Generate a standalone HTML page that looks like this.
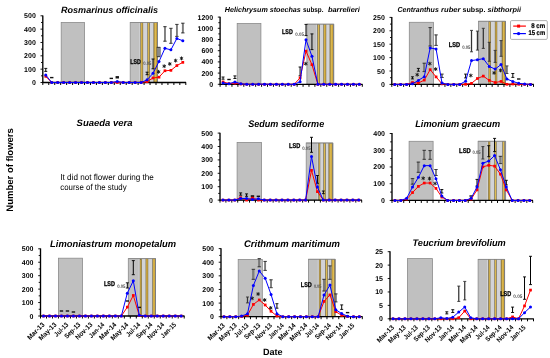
<!DOCTYPE html>
<html><head><meta charset="utf-8"><style>
html,body{margin:0;padding:0;background:#fff;}
body{width:550px;height:358px;overflow:hidden;}
svg{display:block;font-family:"Liberation Sans", sans-serif;text-rendering:geometricPrecision;will-change:transform;}
</style></head><body>
<svg width="550" height="358" viewBox="0 0 550 358">
<defs><linearGradient id="gold" x1="0" y1="0" x2="1" y2="0">
<stop offset="0" stop-color="#746a4c"/><stop offset="0.25" stop-color="#cca640"/><stop offset="0.55" stop-color="#e0be54"/><stop offset="0.8" stop-color="#c8a038"/><stop offset="1" stop-color="#7e6a34"/></linearGradient></defs>
<rect width="550" height="358" fill="#fff"/>
<rect x="61.2" y="22.5" width="23.3" height="60" fill="#c0c0c0" stroke="#8a8a8a" stroke-width="0.8"/>
<rect x="130.2" y="22.5" width="27.3" height="60" fill="#c0c0c0" stroke="#8a8a8a" stroke-width="0.8"/>
<rect x="139.3" y="22.9" width="18.2" height="59.6" fill="#d2d3d8"/>
<rect x="140.7" y="22.7" width="2.2" height="59.8" fill="url(#gold)" stroke="#75683f" stroke-width="0.45"/>
<rect x="147.7" y="22.7" width="1.9" height="59.8" fill="url(#gold)" stroke="#75683f" stroke-width="0.45"/>
<rect x="153.8" y="22.7" width="3.4" height="59.8" fill="url(#gold)" stroke="#75683f" stroke-width="0.45"/>
<line x1="157.5" y1="22.5" x2="157.5" y2="82.5" stroke="#767a84" stroke-width="0.8"/>
<line x1="130.2" y1="22.5" x2="157.5" y2="22.5" stroke="#8a8a8a" stroke-width="0.8"/>
<line x1="42.8" y1="15.4" x2="42.8" y2="83" stroke="#000" stroke-width="1.35"/>
<line x1="42.3" y1="82.5" x2="186.1" y2="82.5" stroke="#000" stroke-width="1.3"/>
<line x1="42.8" y1="82.5" x2="42.8" y2="85" stroke="#000" stroke-width="1.0"/>
<line x1="48.76" y1="82.5" x2="48.76" y2="85" stroke="#000" stroke-width="1.0"/>
<line x1="54.72" y1="82.5" x2="54.72" y2="85" stroke="#000" stroke-width="1.0"/>
<line x1="60.67" y1="82.5" x2="60.67" y2="85" stroke="#000" stroke-width="1.0"/>
<line x1="66.63" y1="82.5" x2="66.63" y2="85" stroke="#000" stroke-width="1.0"/>
<line x1="72.59" y1="82.5" x2="72.59" y2="85" stroke="#000" stroke-width="1.0"/>
<line x1="78.55" y1="82.5" x2="78.55" y2="85" stroke="#000" stroke-width="1.0"/>
<line x1="84.51" y1="82.5" x2="84.51" y2="85" stroke="#000" stroke-width="1.0"/>
<line x1="90.47" y1="82.5" x2="90.47" y2="85" stroke="#000" stroke-width="1.0"/>
<line x1="96.42" y1="82.5" x2="96.42" y2="85" stroke="#000" stroke-width="1.0"/>
<line x1="102.38" y1="82.5" x2="102.38" y2="85" stroke="#000" stroke-width="1.0"/>
<line x1="108.34" y1="82.5" x2="108.34" y2="85" stroke="#000" stroke-width="1.0"/>
<line x1="114.3" y1="82.5" x2="114.3" y2="85" stroke="#000" stroke-width="1.0"/>
<line x1="120.26" y1="82.5" x2="120.26" y2="85" stroke="#000" stroke-width="1.0"/>
<line x1="126.22" y1="82.5" x2="126.22" y2="85" stroke="#000" stroke-width="1.0"/>
<line x1="132.18" y1="82.5" x2="132.18" y2="85" stroke="#000" stroke-width="1.0"/>
<line x1="138.13" y1="82.5" x2="138.13" y2="85" stroke="#000" stroke-width="1.0"/>
<line x1="144.09" y1="82.5" x2="144.09" y2="85" stroke="#000" stroke-width="1.0"/>
<line x1="150.05" y1="82.5" x2="150.05" y2="85" stroke="#000" stroke-width="1.0"/>
<line x1="156.01" y1="82.5" x2="156.01" y2="85" stroke="#000" stroke-width="1.0"/>
<line x1="161.97" y1="82.5" x2="161.97" y2="85" stroke="#000" stroke-width="1.0"/>
<line x1="167.93" y1="82.5" x2="167.93" y2="85" stroke="#000" stroke-width="1.0"/>
<line x1="173.88" y1="82.5" x2="173.88" y2="85" stroke="#000" stroke-width="1.0"/>
<line x1="179.84" y1="82.5" x2="179.84" y2="85" stroke="#000" stroke-width="1.0"/>
<line x1="185.8" y1="82.5" x2="185.8" y2="85" stroke="#000" stroke-width="1.0"/>
<line x1="40.5" y1="82.5" x2="42.8" y2="82.5" stroke="#000" stroke-width="0.9"/>
<text x="35.8" y="85" font-size="7" font-weight="bold" font-style="normal" fill="#000" text-anchor="end" >0</text>
<line x1="40.5" y1="69.16" x2="42.8" y2="69.16" stroke="#000" stroke-width="0.9"/>
<text x="35.8" y="71.66" font-size="7" font-weight="bold" font-style="normal" fill="#000" text-anchor="end" >100</text>
<line x1="40.5" y1="55.82" x2="42.8" y2="55.82" stroke="#000" stroke-width="0.9"/>
<text x="35.8" y="58.32" font-size="7" font-weight="bold" font-style="normal" fill="#000" text-anchor="end" >200</text>
<line x1="40.5" y1="42.48" x2="42.8" y2="42.48" stroke="#000" stroke-width="0.9"/>
<text x="35.8" y="44.98" font-size="7" font-weight="bold" font-style="normal" fill="#000" text-anchor="end" >300</text>
<line x1="40.5" y1="29.14" x2="42.8" y2="29.14" stroke="#000" stroke-width="0.9"/>
<text x="35.8" y="31.64" font-size="7" font-weight="bold" font-style="normal" fill="#000" text-anchor="end" >400</text>
<line x1="40.5" y1="15.8" x2="42.8" y2="15.8" stroke="#000" stroke-width="0.9"/>
<text x="35.8" y="18.3" font-size="7" font-weight="bold" font-style="normal" fill="#000" text-anchor="end" >500</text>
<line x1="41" y1="75.83" x2="42.8" y2="75.83" stroke="#000" stroke-width="0.9"/>
<line x1="41" y1="62.49" x2="42.8" y2="62.49" stroke="#000" stroke-width="0.9"/>
<line x1="41" y1="49.15" x2="42.8" y2="49.15" stroke="#000" stroke-width="0.9"/>
<line x1="41" y1="35.81" x2="42.8" y2="35.81" stroke="#000" stroke-width="0.9"/>
<line x1="41" y1="22.47" x2="42.8" y2="22.47" stroke="#000" stroke-width="0.9"/>
<line x1="45.78" y1="68.4" x2="45.78" y2="71.4" stroke="#000" stroke-width="1.0"/>
<line x1="44.28" y1="68.4" x2="47.28" y2="68.4" stroke="#000" stroke-width="0.9"/>
<line x1="44.28" y1="71.4" x2="47.28" y2="71.4" stroke="#000" stroke-width="0.9"/>
<line x1="50.04" y1="77.6" x2="53.44" y2="77.6" stroke="#111" stroke-width="1.4"/>
<line x1="109.62" y1="78.4" x2="113.02" y2="78.4" stroke="#111" stroke-width="1.4"/>
<rect x="115.58" y="76.1" width="3.4" height="2.4" fill="#151515"/>
<line x1="147.07" y1="72.2" x2="147.07" y2="74.7" stroke="#000" stroke-width="1.0"/>
<line x1="145.57" y1="72.2" x2="148.57" y2="72.2" stroke="#000" stroke-width="0.9"/>
<line x1="145.57" y1="74.7" x2="148.57" y2="74.7" stroke="#000" stroke-width="0.9"/>
<line x1="153.03" y1="59" x2="153.03" y2="68.8" stroke="#000" stroke-width="1.0"/>
<line x1="151.53" y1="59" x2="154.53" y2="59" stroke="#000" stroke-width="0.9"/>
<line x1="151.53" y1="68.8" x2="154.53" y2="68.8" stroke="#000" stroke-width="0.9"/>
<rect x="156.89" y="47.3" width="3.4" height="9.4" fill="#8a8a8a" stroke="#4a4a4a" stroke-width="0.45"/>
<line x1="156.84" y1="47.3" x2="160.34" y2="47.3" stroke="#333" stroke-width="0.9"/>
<line x1="156.84" y1="56.7" x2="160.34" y2="56.7" stroke="#333" stroke-width="0.9"/>
<rect x="164.3" y="26.7" width="1.3" height="14.5" fill="#8a8a8a" stroke="#4a4a4a" stroke-width="0.45"/>
<line x1="163.2" y1="26.7" x2="166.7" y2="26.7" stroke="#333" stroke-width="0.9"/>
<line x1="163.2" y1="41.2" x2="166.7" y2="41.2" stroke="#333" stroke-width="0.9"/>
<rect x="170.25" y="28.3" width="1.3" height="15" fill="#8a8a8a" stroke="#4a4a4a" stroke-width="0.45"/>
<line x1="169.15" y1="28.3" x2="172.65" y2="28.3" stroke="#333" stroke-width="0.9"/>
<line x1="169.15" y1="43.3" x2="172.65" y2="43.3" stroke="#333" stroke-width="0.9"/>
<rect x="176.21" y="24.4" width="1.3" height="12" fill="#8a8a8a" stroke="#4a4a4a" stroke-width="0.45"/>
<line x1="175.11" y1="24.4" x2="178.61" y2="24.4" stroke="#333" stroke-width="0.9"/>
<line x1="175.11" y1="36.4" x2="178.61" y2="36.4" stroke="#333" stroke-width="0.9"/>
<rect x="182.17" y="23.2" width="1.3" height="9.7" fill="#8a8a8a" stroke="#4a4a4a" stroke-width="0.45"/>
<line x1="181.07" y1="23.2" x2="184.57" y2="23.2" stroke="#333" stroke-width="0.9"/>
<line x1="181.07" y1="32.9" x2="184.57" y2="32.9" stroke="#333" stroke-width="0.9"/>
<g transform="translate(158.6 71.8)" stroke="#1a1a1a" stroke-width="1.0" stroke-linecap="round"><line x1="0" y1="-1.5" x2="0" y2="1.5"/><line x1="-1.3" y1="-0.75" x2="1.3" y2="0.75"/><line x1="-1.3" y1="0.75" x2="1.3" y2="-0.75"/></g>
<g transform="translate(164.2 66.2)" stroke="#1a1a1a" stroke-width="1.0" stroke-linecap="round"><line x1="0" y1="-1.5" x2="0" y2="1.5"/><line x1="-1.3" y1="-0.75" x2="1.3" y2="0.75"/><line x1="-1.3" y1="0.75" x2="1.3" y2="-0.75"/></g>
<g transform="translate(169.8 63.9)" stroke="#1a1a1a" stroke-width="1.0" stroke-linecap="round"><line x1="0" y1="-1.5" x2="0" y2="1.5"/><line x1="-1.3" y1="-0.75" x2="1.3" y2="0.75"/><line x1="-1.3" y1="0.75" x2="1.3" y2="-0.75"/></g>
<g transform="translate(175.6 60.6)" stroke="#1a1a1a" stroke-width="1.0" stroke-linecap="round"><line x1="0" y1="-1.5" x2="0" y2="1.5"/><line x1="-1.3" y1="-0.75" x2="1.3" y2="0.75"/><line x1="-1.3" y1="0.75" x2="1.3" y2="-0.75"/></g>
<g transform="translate(181.5 58.4)" stroke="#1a1a1a" stroke-width="1.0" stroke-linecap="round"><line x1="0" y1="-1.5" x2="0" y2="1.5"/><line x1="-1.3" y1="-0.75" x2="1.3" y2="0.75"/><line x1="-1.3" y1="0.75" x2="1.3" y2="-0.75"/></g>
<polyline points="45.78,76.36 51.74,82.5 57.7,82.5 63.65,82.5 69.61,82.5 75.57,82.5 81.53,82.5 87.49,82.5 93.45,82.5 99.4,82.5 105.36,82.5 111.32,82.5 117.28,82.5 123.24,82.5 129.2,82.5 135.15,82.5 141.11,82.5 147.07,81.7 153.03,77.96 158.99,77.16 164.95,70.76 170.9,70.36 176.86,65.56 182.82,62.36" fill="none" stroke="#ff0000" stroke-width="1.0" stroke-linejoin="round"/>
<rect x="44.43" y="75.01" width="2.7" height="2.7" fill="#ff0000"/>
<rect x="50.39" y="81.15" width="2.7" height="2.7" fill="#ff0000"/>
<rect x="56.35" y="81.15" width="2.7" height="2.7" fill="#ff0000"/>
<rect x="62.3" y="81.15" width="2.7" height="2.7" fill="#ff0000"/>
<rect x="68.26" y="81.15" width="2.7" height="2.7" fill="#ff0000"/>
<rect x="74.22" y="81.15" width="2.7" height="2.7" fill="#ff0000"/>
<rect x="80.18" y="81.15" width="2.7" height="2.7" fill="#ff0000"/>
<rect x="86.14" y="81.15" width="2.7" height="2.7" fill="#ff0000"/>
<rect x="92.1" y="81.15" width="2.7" height="2.7" fill="#ff0000"/>
<rect x="98.05" y="81.15" width="2.7" height="2.7" fill="#ff0000"/>
<rect x="104.01" y="81.15" width="2.7" height="2.7" fill="#ff0000"/>
<rect x="109.97" y="81.15" width="2.7" height="2.7" fill="#ff0000"/>
<rect x="115.93" y="81.15" width="2.7" height="2.7" fill="#ff0000"/>
<rect x="121.89" y="81.15" width="2.7" height="2.7" fill="#ff0000"/>
<rect x="127.85" y="81.15" width="2.7" height="2.7" fill="#ff0000"/>
<rect x="133.8" y="81.15" width="2.7" height="2.7" fill="#ff0000"/>
<rect x="139.76" y="81.15" width="2.7" height="2.7" fill="#ff0000"/>
<rect x="145.72" y="80.35" width="2.7" height="2.7" fill="#ff0000"/>
<rect x="151.68" y="76.61" width="2.7" height="2.7" fill="#ff0000"/>
<rect x="157.64" y="75.81" width="2.7" height="2.7" fill="#ff0000"/>
<rect x="163.6" y="69.41" width="2.7" height="2.7" fill="#ff0000"/>
<rect x="169.55" y="69.01" width="2.7" height="2.7" fill="#ff0000"/>
<rect x="175.51" y="64.21" width="2.7" height="2.7" fill="#ff0000"/>
<rect x="181.47" y="61.01" width="2.7" height="2.7" fill="#ff0000"/>
<polyline points="45.78,75.03 51.74,82.5 57.7,82.5 63.65,82.5 69.61,82.5 75.57,82.5 81.53,82.5 87.49,82.5 93.45,82.5 99.4,82.5 105.36,82.5 111.32,82.5 117.28,81.43 123.24,82.5 129.2,82.5 135.15,82.5 141.11,82.5 147.07,79.83 153.03,73.3 158.99,61.56 164.95,48.35 170.9,49.82 176.86,38.48 182.82,40.75" fill="none" stroke="#0000ff" stroke-width="1.0" stroke-linejoin="round"/>
<circle cx="45.78" cy="75.03" r="1.5" fill="#0000ff"/>
<circle cx="51.74" cy="82.5" r="1.5" fill="#0000ff"/>
<circle cx="57.7" cy="82.5" r="1.5" fill="#0000ff"/>
<circle cx="63.65" cy="82.5" r="1.5" fill="#0000ff"/>
<circle cx="69.61" cy="82.5" r="1.5" fill="#0000ff"/>
<circle cx="75.57" cy="82.5" r="1.5" fill="#0000ff"/>
<circle cx="81.53" cy="82.5" r="1.5" fill="#0000ff"/>
<circle cx="87.49" cy="82.5" r="1.5" fill="#0000ff"/>
<circle cx="93.45" cy="82.5" r="1.5" fill="#0000ff"/>
<circle cx="99.4" cy="82.5" r="1.5" fill="#0000ff"/>
<circle cx="105.36" cy="82.5" r="1.5" fill="#0000ff"/>
<circle cx="111.32" cy="82.5" r="1.5" fill="#0000ff"/>
<circle cx="117.28" cy="81.43" r="1.5" fill="#0000ff"/>
<circle cx="123.24" cy="82.5" r="1.5" fill="#0000ff"/>
<circle cx="129.2" cy="82.5" r="1.5" fill="#0000ff"/>
<circle cx="135.15" cy="82.5" r="1.5" fill="#0000ff"/>
<circle cx="141.11" cy="82.5" r="1.5" fill="#0000ff"/>
<circle cx="147.07" cy="79.83" r="1.5" fill="#0000ff"/>
<circle cx="153.03" cy="73.3" r="1.5" fill="#0000ff"/>
<circle cx="158.99" cy="61.56" r="1.5" fill="#0000ff"/>
<circle cx="164.95" cy="48.35" r="1.5" fill="#0000ff"/>
<circle cx="170.9" cy="49.82" r="1.5" fill="#0000ff"/>
<circle cx="176.86" cy="38.48" r="1.5" fill="#0000ff"/>
<circle cx="182.82" cy="40.75" r="1.5" fill="#0000ff"/>
<text x="130.2" y="63.8" font-size="7" font-weight="bold" font-style="normal" fill="#000" text-anchor="start" stroke="#000" stroke-width="0.3" textLength="10.5" lengthAdjust="spacingAndGlyphs" >LSD</text>
<text x="143.3" y="64.9" font-size="5.0" font-weight="bold" font-style="normal" fill="#555" text-anchor="start" textLength="8.1" lengthAdjust="spacingAndGlyphs" >0.05</text>
<text x="61" y="13" font-size="9" font-weight="bold" font-style="italic" fill="#000" text-anchor="start" textLength="97" lengthAdjust="spacingAndGlyphs" >Rosmarinus  officinalis</text>
<rect x="237.2" y="23.5" width="23.7" height="60.8" fill="#c0c0c0" stroke="#8a8a8a" stroke-width="0.8"/>
<rect x="306.9" y="24.2" width="26.8" height="60.1" fill="#c0c0c0" stroke="#8a8a8a" stroke-width="0.8"/>
<rect x="316.1" y="24.6" width="17.6" height="59.7" fill="#d2d3d8"/>
<rect x="317.5" y="24.4" width="2.2" height="59.9" fill="url(#gold)" stroke="#75683f" stroke-width="0.45"/>
<rect x="323.6" y="24.4" width="2.4" height="59.9" fill="url(#gold)" stroke="#75683f" stroke-width="0.45"/>
<rect x="329.9" y="24.4" width="3.4" height="59.9" fill="url(#gold)" stroke="#75683f" stroke-width="0.45"/>
<line x1="333.7" y1="24.2" x2="333.7" y2="84.3" stroke="#767a84" stroke-width="0.8"/>
<line x1="306.9" y1="24.2" x2="333.7" y2="24.2" stroke="#8a8a8a" stroke-width="0.8"/>
<line x1="220.1" y1="16.7" x2="220.1" y2="84.8" stroke="#000" stroke-width="1.35"/>
<line x1="219.6" y1="84.3" x2="362.6" y2="84.3" stroke="#000" stroke-width="1.3"/>
<line x1="220.1" y1="84.3" x2="220.1" y2="86.8" stroke="#000" stroke-width="1.0"/>
<line x1="226.03" y1="84.3" x2="226.03" y2="86.8" stroke="#000" stroke-width="1.0"/>
<line x1="231.95" y1="84.3" x2="231.95" y2="86.8" stroke="#000" stroke-width="1.0"/>
<line x1="237.88" y1="84.3" x2="237.88" y2="86.8" stroke="#000" stroke-width="1.0"/>
<line x1="243.8" y1="84.3" x2="243.8" y2="86.8" stroke="#000" stroke-width="1.0"/>
<line x1="249.72" y1="84.3" x2="249.72" y2="86.8" stroke="#000" stroke-width="1.0"/>
<line x1="255.65" y1="84.3" x2="255.65" y2="86.8" stroke="#000" stroke-width="1.0"/>
<line x1="261.57" y1="84.3" x2="261.57" y2="86.8" stroke="#000" stroke-width="1.0"/>
<line x1="267.5" y1="84.3" x2="267.5" y2="86.8" stroke="#000" stroke-width="1.0"/>
<line x1="273.43" y1="84.3" x2="273.43" y2="86.8" stroke="#000" stroke-width="1.0"/>
<line x1="279.35" y1="84.3" x2="279.35" y2="86.8" stroke="#000" stroke-width="1.0"/>
<line x1="285.27" y1="84.3" x2="285.27" y2="86.8" stroke="#000" stroke-width="1.0"/>
<line x1="291.2" y1="84.3" x2="291.2" y2="86.8" stroke="#000" stroke-width="1.0"/>
<line x1="297.12" y1="84.3" x2="297.12" y2="86.8" stroke="#000" stroke-width="1.0"/>
<line x1="303.05" y1="84.3" x2="303.05" y2="86.8" stroke="#000" stroke-width="1.0"/>
<line x1="308.98" y1="84.3" x2="308.98" y2="86.8" stroke="#000" stroke-width="1.0"/>
<line x1="314.9" y1="84.3" x2="314.9" y2="86.8" stroke="#000" stroke-width="1.0"/>
<line x1="320.82" y1="84.3" x2="320.82" y2="86.8" stroke="#000" stroke-width="1.0"/>
<line x1="326.75" y1="84.3" x2="326.75" y2="86.8" stroke="#000" stroke-width="1.0"/>
<line x1="332.68" y1="84.3" x2="332.68" y2="86.8" stroke="#000" stroke-width="1.0"/>
<line x1="338.6" y1="84.3" x2="338.6" y2="86.8" stroke="#000" stroke-width="1.0"/>
<line x1="344.52" y1="84.3" x2="344.52" y2="86.8" stroke="#000" stroke-width="1.0"/>
<line x1="350.45" y1="84.3" x2="350.45" y2="86.8" stroke="#000" stroke-width="1.0"/>
<line x1="356.38" y1="84.3" x2="356.38" y2="86.8" stroke="#000" stroke-width="1.0"/>
<line x1="362.3" y1="84.3" x2="362.3" y2="86.8" stroke="#000" stroke-width="1.0"/>
<line x1="217.8" y1="84.3" x2="220.1" y2="84.3" stroke="#000" stroke-width="0.9"/>
<text x="213.1" y="86.8" font-size="7" font-weight="bold" font-style="normal" fill="#000" text-anchor="end" >0</text>
<line x1="217.8" y1="73.1" x2="220.1" y2="73.1" stroke="#000" stroke-width="0.9"/>
<text x="213.1" y="75.6" font-size="7" font-weight="bold" font-style="normal" fill="#000" text-anchor="end" >200</text>
<line x1="217.8" y1="61.9" x2="220.1" y2="61.9" stroke="#000" stroke-width="0.9"/>
<text x="213.1" y="64.4" font-size="7" font-weight="bold" font-style="normal" fill="#000" text-anchor="end" >400</text>
<line x1="217.8" y1="50.7" x2="220.1" y2="50.7" stroke="#000" stroke-width="0.9"/>
<text x="213.1" y="53.2" font-size="7" font-weight="bold" font-style="normal" fill="#000" text-anchor="end" >600</text>
<line x1="217.8" y1="39.5" x2="220.1" y2="39.5" stroke="#000" stroke-width="0.9"/>
<text x="213.1" y="42" font-size="7" font-weight="bold" font-style="normal" fill="#000" text-anchor="end" >800</text>
<line x1="217.8" y1="28.3" x2="220.1" y2="28.3" stroke="#000" stroke-width="0.9"/>
<text x="213.1" y="30.8" font-size="7" font-weight="bold" font-style="normal" fill="#000" text-anchor="end" >1000</text>
<line x1="217.8" y1="17.1" x2="220.1" y2="17.1" stroke="#000" stroke-width="0.9"/>
<text x="213.1" y="19.6" font-size="7" font-weight="bold" font-style="normal" fill="#000" text-anchor="end" >1200</text>
<line x1="218.3" y1="78.7" x2="220.1" y2="78.7" stroke="#000" stroke-width="0.9"/>
<line x1="218.3" y1="67.5" x2="220.1" y2="67.5" stroke="#000" stroke-width="0.9"/>
<line x1="218.3" y1="56.3" x2="220.1" y2="56.3" stroke="#000" stroke-width="0.9"/>
<line x1="218.3" y1="45.1" x2="220.1" y2="45.1" stroke="#000" stroke-width="0.9"/>
<line x1="218.3" y1="33.9" x2="220.1" y2="33.9" stroke="#000" stroke-width="0.9"/>
<line x1="218.3" y1="22.7" x2="220.1" y2="22.7" stroke="#000" stroke-width="0.9"/>
<line x1="223.06" y1="77" x2="223.06" y2="79.2" stroke="#000" stroke-width="1.0"/>
<line x1="221.56" y1="77" x2="224.56" y2="77" stroke="#000" stroke-width="0.9"/>
<line x1="221.56" y1="79.2" x2="224.56" y2="79.2" stroke="#000" stroke-width="0.9"/>
<line x1="227.29" y1="79.5" x2="230.69" y2="79.5" stroke="#111" stroke-width="1.4"/>
<line x1="234.91" y1="75.9" x2="234.91" y2="78.5" stroke="#000" stroke-width="1.0"/>
<line x1="233.41" y1="75.9" x2="236.41" y2="75.9" stroke="#000" stroke-width="0.9"/>
<line x1="233.41" y1="78.5" x2="236.41" y2="78.5" stroke="#000" stroke-width="0.9"/>
<line x1="300.09" y1="67" x2="300.09" y2="75.8" stroke="#000" stroke-width="1.0"/>
<line x1="298.59" y1="67" x2="301.59" y2="67" stroke="#000" stroke-width="0.9"/>
<line x1="298.59" y1="75.8" x2="301.59" y2="75.8" stroke="#000" stroke-width="0.9"/>
<line x1="306.01" y1="24.4" x2="306.01" y2="35.6" stroke="#000" stroke-width="1.0"/>
<line x1="304.51" y1="24.4" x2="307.51" y2="24.4" stroke="#000" stroke-width="0.9"/>
<line x1="304.51" y1="35.6" x2="307.51" y2="35.6" stroke="#000" stroke-width="0.9"/>
<line x1="311.94" y1="33.9" x2="311.94" y2="49.6" stroke="#000" stroke-width="1.0"/>
<line x1="310.44" y1="33.9" x2="313.44" y2="33.9" stroke="#000" stroke-width="0.9"/>
<line x1="310.44" y1="49.6" x2="313.44" y2="49.6" stroke="#000" stroke-width="0.9"/>
<g transform="translate(305.8 63.7)" stroke="#1a1a1a" stroke-width="1.0" stroke-linecap="round"><line x1="0" y1="-1.5" x2="0" y2="1.5"/><line x1="-1.3" y1="-0.75" x2="1.3" y2="0.75"/><line x1="-1.3" y1="0.75" x2="1.3" y2="-0.75"/></g>
<polyline points="223.06,81.95 228.99,83.63 234.91,83.18 240.84,84.02 246.76,84.3 252.69,84.3 258.61,84.3 264.54,84.3 270.46,84.3 276.39,84.3 282.31,84.3 288.24,84.3 294.16,84.3 300.09,77.92 306.01,51.09 311.94,64.7 317.86,84.3 323.79,84.3 329.71,84.3 335.64,84.3 341.56,84.3 347.49,84.3 353.41,84.3 359.34,84.3" fill="none" stroke="#ff0000" stroke-width="1.0" stroke-linejoin="round"/>
<rect x="221.71" y="80.6" width="2.7" height="2.7" fill="#ff0000"/>
<rect x="227.64" y="82.28" width="2.7" height="2.7" fill="#ff0000"/>
<rect x="233.56" y="81.83" width="2.7" height="2.7" fill="#ff0000"/>
<rect x="239.49" y="82.67" width="2.7" height="2.7" fill="#ff0000"/>
<rect x="245.41" y="82.95" width="2.7" height="2.7" fill="#ff0000"/>
<rect x="251.34" y="82.95" width="2.7" height="2.7" fill="#ff0000"/>
<rect x="257.26" y="82.95" width="2.7" height="2.7" fill="#ff0000"/>
<rect x="263.19" y="82.95" width="2.7" height="2.7" fill="#ff0000"/>
<rect x="269.11" y="82.95" width="2.7" height="2.7" fill="#ff0000"/>
<rect x="275.04" y="82.95" width="2.7" height="2.7" fill="#ff0000"/>
<rect x="280.96" y="82.95" width="2.7" height="2.7" fill="#ff0000"/>
<rect x="286.89" y="82.95" width="2.7" height="2.7" fill="#ff0000"/>
<rect x="292.81" y="82.95" width="2.7" height="2.7" fill="#ff0000"/>
<rect x="298.74" y="76.57" width="2.7" height="2.7" fill="#ff0000"/>
<rect x="304.66" y="49.74" width="2.7" height="2.7" fill="#ff0000"/>
<rect x="310.59" y="63.35" width="2.7" height="2.7" fill="#ff0000"/>
<rect x="316.51" y="82.95" width="2.7" height="2.7" fill="#ff0000"/>
<rect x="322.44" y="82.95" width="2.7" height="2.7" fill="#ff0000"/>
<rect x="328.36" y="82.95" width="2.7" height="2.7" fill="#ff0000"/>
<rect x="334.29" y="82.95" width="2.7" height="2.7" fill="#ff0000"/>
<rect x="340.21" y="82.95" width="2.7" height="2.7" fill="#ff0000"/>
<rect x="346.14" y="82.95" width="2.7" height="2.7" fill="#ff0000"/>
<rect x="352.06" y="82.95" width="2.7" height="2.7" fill="#ff0000"/>
<rect x="357.99" y="82.95" width="2.7" height="2.7" fill="#ff0000"/>
<polyline points="223.06,83.07 228.99,83.74 234.91,81.89 240.84,83.74 246.76,84.3 252.69,84.3 258.61,84.19 264.54,84.13 270.46,84.3 276.39,84.3 282.31,84.3 288.24,84.3 294.16,84.3 300.09,81.72 306.01,39.78 311.94,56.3 317.86,84.3 323.79,84.3 329.71,84.3 335.64,84.3 341.56,84.3 347.49,84.3 353.41,84.3 359.34,84.3" fill="none" stroke="#0000ff" stroke-width="1.0" stroke-linejoin="round"/>
<circle cx="223.06" cy="83.07" r="1.5" fill="#0000ff"/>
<circle cx="228.99" cy="83.74" r="1.5" fill="#0000ff"/>
<circle cx="234.91" cy="81.89" r="1.5" fill="#0000ff"/>
<circle cx="240.84" cy="83.74" r="1.5" fill="#0000ff"/>
<circle cx="246.76" cy="84.3" r="1.5" fill="#0000ff"/>
<circle cx="252.69" cy="84.3" r="1.5" fill="#0000ff"/>
<circle cx="258.61" cy="84.19" r="1.5" fill="#0000ff"/>
<circle cx="264.54" cy="84.13" r="1.5" fill="#0000ff"/>
<circle cx="270.46" cy="84.3" r="1.5" fill="#0000ff"/>
<circle cx="276.39" cy="84.3" r="1.5" fill="#0000ff"/>
<circle cx="282.31" cy="84.3" r="1.5" fill="#0000ff"/>
<circle cx="288.24" cy="84.3" r="1.5" fill="#0000ff"/>
<circle cx="294.16" cy="84.3" r="1.5" fill="#0000ff"/>
<circle cx="300.09" cy="81.72" r="1.5" fill="#0000ff"/>
<circle cx="306.01" cy="39.78" r="1.5" fill="#0000ff"/>
<circle cx="311.94" cy="56.3" r="1.5" fill="#0000ff"/>
<circle cx="317.86" cy="84.3" r="1.5" fill="#0000ff"/>
<circle cx="323.79" cy="84.3" r="1.5" fill="#0000ff"/>
<circle cx="329.71" cy="84.3" r="1.5" fill="#0000ff"/>
<circle cx="335.64" cy="84.3" r="1.5" fill="#0000ff"/>
<circle cx="341.56" cy="84.3" r="1.5" fill="#0000ff"/>
<circle cx="347.49" cy="84.3" r="1.5" fill="#0000ff"/>
<circle cx="353.41" cy="84.3" r="1.5" fill="#0000ff"/>
<circle cx="359.34" cy="84.3" r="1.5" fill="#0000ff"/>
<text x="282.1" y="34" font-size="7" font-weight="bold" font-style="normal" fill="#000" text-anchor="start" stroke="#000" stroke-width="0.3" textLength="10.7" lengthAdjust="spacingAndGlyphs" >LSD</text>
<text x="295.2" y="35.9" font-size="5.0" font-weight="bold" font-style="normal" fill="#555" text-anchor="start" textLength="8.7" lengthAdjust="spacingAndGlyphs" >0.05</text>
<text x="224.8" y="11.5" font-size="7.2" font-weight="bold" font-style="italic" fill="#000" text-anchor="start" textLength="43" lengthAdjust="spacingAndGlyphs" >Helichrysum</text>
<text x="269.7" y="11.5" font-size="7.2" font-weight="bold" font-style="italic" fill="#000" text-anchor="start" textLength="31.1" lengthAdjust="spacingAndGlyphs" >stoechas</text>
<text x="303" y="11.5" font-size="7.2" font-weight="bold" font-style="normal" fill="#000" text-anchor="start" textLength="20.4" lengthAdjust="spacingAndGlyphs" >subsp.</text>
<text x="327.9" y="11.5" font-size="7.2" font-weight="bold" font-style="italic" fill="#000" text-anchor="start" textLength="31.9" lengthAdjust="spacingAndGlyphs" >barrelieri</text>
<rect x="409.3" y="22.3" width="24.3" height="62.1" fill="#c0c0c0" stroke="#8a8a8a" stroke-width="0.8"/>
<rect x="478.4" y="21.3" width="27" height="63.1" fill="#c0c0c0" stroke="#8a8a8a" stroke-width="0.8"/>
<rect x="487.4" y="21.7" width="18" height="62.7" fill="#d2d3d8"/>
<rect x="488.8" y="21.5" width="1.9" height="62.9" fill="url(#gold)" stroke="#75683f" stroke-width="0.45"/>
<rect x="495.1" y="21.5" width="1.9" height="62.9" fill="url(#gold)" stroke="#75683f" stroke-width="0.45"/>
<rect x="502" y="21.5" width="3.2" height="62.9" fill="url(#gold)" stroke="#75683f" stroke-width="0.45"/>
<line x1="505.4" y1="21.3" x2="505.4" y2="84.4" stroke="#767a84" stroke-width="0.8"/>
<line x1="478.4" y1="21.3" x2="505.4" y2="21.3" stroke="#8a8a8a" stroke-width="0.8"/>
<line x1="391.8" y1="17" x2="391.8" y2="84.9" stroke="#000" stroke-width="1.35"/>
<line x1="391.3" y1="84.4" x2="533.8" y2="84.4" stroke="#000" stroke-width="1.3"/>
<line x1="391.8" y1="84.4" x2="391.8" y2="86.9" stroke="#000" stroke-width="1.0"/>
<line x1="397.7" y1="84.4" x2="397.7" y2="86.9" stroke="#000" stroke-width="1.0"/>
<line x1="403.61" y1="84.4" x2="403.61" y2="86.9" stroke="#000" stroke-width="1.0"/>
<line x1="409.51" y1="84.4" x2="409.51" y2="86.9" stroke="#000" stroke-width="1.0"/>
<line x1="415.42" y1="84.4" x2="415.42" y2="86.9" stroke="#000" stroke-width="1.0"/>
<line x1="421.32" y1="84.4" x2="421.32" y2="86.9" stroke="#000" stroke-width="1.0"/>
<line x1="427.23" y1="84.4" x2="427.23" y2="86.9" stroke="#000" stroke-width="1.0"/>
<line x1="433.13" y1="84.4" x2="433.13" y2="86.9" stroke="#000" stroke-width="1.0"/>
<line x1="439.03" y1="84.4" x2="439.03" y2="86.9" stroke="#000" stroke-width="1.0"/>
<line x1="444.94" y1="84.4" x2="444.94" y2="86.9" stroke="#000" stroke-width="1.0"/>
<line x1="450.84" y1="84.4" x2="450.84" y2="86.9" stroke="#000" stroke-width="1.0"/>
<line x1="456.75" y1="84.4" x2="456.75" y2="86.9" stroke="#000" stroke-width="1.0"/>
<line x1="462.65" y1="84.4" x2="462.65" y2="86.9" stroke="#000" stroke-width="1.0"/>
<line x1="468.55" y1="84.4" x2="468.55" y2="86.9" stroke="#000" stroke-width="1.0"/>
<line x1="474.46" y1="84.4" x2="474.46" y2="86.9" stroke="#000" stroke-width="1.0"/>
<line x1="480.36" y1="84.4" x2="480.36" y2="86.9" stroke="#000" stroke-width="1.0"/>
<line x1="486.27" y1="84.4" x2="486.27" y2="86.9" stroke="#000" stroke-width="1.0"/>
<line x1="492.17" y1="84.4" x2="492.17" y2="86.9" stroke="#000" stroke-width="1.0"/>
<line x1="498.07" y1="84.4" x2="498.07" y2="86.9" stroke="#000" stroke-width="1.0"/>
<line x1="503.98" y1="84.4" x2="503.98" y2="86.9" stroke="#000" stroke-width="1.0"/>
<line x1="509.88" y1="84.4" x2="509.88" y2="86.9" stroke="#000" stroke-width="1.0"/>
<line x1="515.79" y1="84.4" x2="515.79" y2="86.9" stroke="#000" stroke-width="1.0"/>
<line x1="521.69" y1="84.4" x2="521.69" y2="86.9" stroke="#000" stroke-width="1.0"/>
<line x1="527.6" y1="84.4" x2="527.6" y2="86.9" stroke="#000" stroke-width="1.0"/>
<line x1="533.5" y1="84.4" x2="533.5" y2="86.9" stroke="#000" stroke-width="1.0"/>
<line x1="389.5" y1="84.4" x2="391.8" y2="84.4" stroke="#000" stroke-width="0.9"/>
<text x="384.8" y="86.9" font-size="7" font-weight="bold" font-style="normal" fill="#000" text-anchor="end" >0</text>
<line x1="389.5" y1="71" x2="391.8" y2="71" stroke="#000" stroke-width="0.9"/>
<text x="384.8" y="73.5" font-size="7" font-weight="bold" font-style="normal" fill="#000" text-anchor="end" >50</text>
<line x1="389.5" y1="57.6" x2="391.8" y2="57.6" stroke="#000" stroke-width="0.9"/>
<text x="384.8" y="60.1" font-size="7" font-weight="bold" font-style="normal" fill="#000" text-anchor="end" >100</text>
<line x1="389.5" y1="44.2" x2="391.8" y2="44.2" stroke="#000" stroke-width="0.9"/>
<text x="384.8" y="46.7" font-size="7" font-weight="bold" font-style="normal" fill="#000" text-anchor="end" >150</text>
<line x1="389.5" y1="30.8" x2="391.8" y2="30.8" stroke="#000" stroke-width="0.9"/>
<text x="384.8" y="33.3" font-size="7" font-weight="bold" font-style="normal" fill="#000" text-anchor="end" >200</text>
<line x1="389.5" y1="17.4" x2="391.8" y2="17.4" stroke="#000" stroke-width="0.9"/>
<text x="384.8" y="19.9" font-size="7" font-weight="bold" font-style="normal" fill="#000" text-anchor="end" >250</text>
<line x1="390" y1="77.7" x2="391.8" y2="77.7" stroke="#000" stroke-width="0.9"/>
<line x1="390" y1="64.3" x2="391.8" y2="64.3" stroke="#000" stroke-width="0.9"/>
<line x1="390" y1="50.9" x2="391.8" y2="50.9" stroke="#000" stroke-width="0.9"/>
<line x1="390" y1="37.5" x2="391.8" y2="37.5" stroke="#000" stroke-width="0.9"/>
<line x1="390" y1="24.1" x2="391.8" y2="24.1" stroke="#000" stroke-width="0.9"/>
<line x1="412.46" y1="76.8" x2="412.46" y2="78.9" stroke="#000" stroke-width="1.0"/>
<line x1="410.96" y1="76.8" x2="413.96" y2="76.8" stroke="#000" stroke-width="0.9"/>
<line x1="410.96" y1="78.9" x2="413.96" y2="78.9" stroke="#000" stroke-width="0.9"/>
<line x1="418.37" y1="68.4" x2="418.37" y2="71.2" stroke="#000" stroke-width="1.0"/>
<line x1="416.87" y1="68.4" x2="419.87" y2="68.4" stroke="#000" stroke-width="0.9"/>
<line x1="416.87" y1="71.2" x2="419.87" y2="71.2" stroke="#000" stroke-width="0.9"/>
<rect x="423.62" y="63.2" width="1.3" height="8.4" fill="#8a8a8a" stroke="#4a4a4a" stroke-width="0.45"/>
<line x1="422.52" y1="63.2" x2="426.02" y2="63.2" stroke="#333" stroke-width="0.9"/>
<line x1="422.52" y1="71.6" x2="426.02" y2="71.6" stroke="#333" stroke-width="0.9"/>
<rect x="429.53" y="27.6" width="1.3" height="18.4" fill="#8a8a8a" stroke="#4a4a4a" stroke-width="0.45"/>
<line x1="428.43" y1="27.6" x2="431.93" y2="27.6" stroke="#333" stroke-width="0.9"/>
<line x1="428.43" y1="46" x2="431.93" y2="46" stroke="#333" stroke-width="0.9"/>
<rect x="435.43" y="34.9" width="1.3" height="10.5" fill="#8a8a8a" stroke="#4a4a4a" stroke-width="0.45"/>
<line x1="434.33" y1="34.9" x2="437.83" y2="34.9" stroke="#333" stroke-width="0.9"/>
<line x1="434.33" y1="45.4" x2="437.83" y2="45.4" stroke="#333" stroke-width="0.9"/>
<rect x="441.34" y="74.1" width="1.3" height="3.4" fill="#8a8a8a" stroke="#4a4a4a" stroke-width="0.45"/>
<line x1="440.24" y1="74.1" x2="443.74" y2="74.1" stroke="#333" stroke-width="0.9"/>
<line x1="440.24" y1="77.5" x2="443.74" y2="77.5" stroke="#333" stroke-width="0.9"/>
<line x1="465.6" y1="74.1" x2="465.6" y2="77.9" stroke="#000" stroke-width="1.0"/>
<line x1="464.1" y1="74.1" x2="467.1" y2="74.1" stroke="#000" stroke-width="0.9"/>
<line x1="464.1" y1="77.9" x2="467.1" y2="77.9" stroke="#000" stroke-width="0.9"/>
<line x1="471.51" y1="30.4" x2="471.51" y2="51.8" stroke="#333" stroke-width="1.25"/>
<line x1="470.01" y1="30.4" x2="473.01" y2="30.4" stroke="#333" stroke-width="0.9"/>
<line x1="470.01" y1="51.8" x2="473.01" y2="51.8" stroke="#333" stroke-width="0.9"/>
<line x1="477.41" y1="31.1" x2="477.41" y2="50.1" stroke="#333" stroke-width="1.25"/>
<line x1="475.91" y1="31.1" x2="478.91" y2="31.1" stroke="#333" stroke-width="0.9"/>
<line x1="475.91" y1="50.1" x2="478.91" y2="50.1" stroke="#333" stroke-width="0.9"/>
<line x1="483.31" y1="28.3" x2="483.31" y2="48.4" stroke="#333" stroke-width="1.25"/>
<line x1="481.81" y1="28.3" x2="484.81" y2="28.3" stroke="#333" stroke-width="0.9"/>
<line x1="481.81" y1="48.4" x2="484.81" y2="48.4" stroke="#333" stroke-width="0.9"/>
<line x1="489.22" y1="42.3" x2="489.22" y2="61.3" stroke="#333" stroke-width="1.25"/>
<line x1="487.72" y1="42.3" x2="490.72" y2="42.3" stroke="#333" stroke-width="0.9"/>
<line x1="487.72" y1="61.3" x2="490.72" y2="61.3" stroke="#333" stroke-width="0.9"/>
<line x1="495.12" y1="50.4" x2="495.12" y2="62.4" stroke="#333" stroke-width="1.25"/>
<line x1="493.62" y1="50.4" x2="496.62" y2="50.4" stroke="#333" stroke-width="0.9"/>
<line x1="493.62" y1="62.4" x2="496.62" y2="62.4" stroke="#333" stroke-width="0.9"/>
<line x1="501.03" y1="40.6" x2="501.03" y2="56.3" stroke="#333" stroke-width="1.25"/>
<line x1="499.53" y1="40.6" x2="502.53" y2="40.6" stroke="#333" stroke-width="0.9"/>
<line x1="499.53" y1="56.3" x2="502.53" y2="56.3" stroke="#333" stroke-width="0.9"/>
<line x1="506.93" y1="65.9" x2="506.93" y2="73.5" stroke="#333" stroke-width="1.25"/>
<line x1="505.43" y1="65.9" x2="508.43" y2="65.9" stroke="#333" stroke-width="0.9"/>
<line x1="505.43" y1="73.5" x2="508.43" y2="73.5" stroke="#333" stroke-width="0.9"/>
<line x1="512.84" y1="73.5" x2="512.84" y2="77.4" stroke="#000" stroke-width="1.0"/>
<line x1="511.34" y1="73.5" x2="514.34" y2="73.5" stroke="#000" stroke-width="0.9"/>
<line x1="511.34" y1="77.4" x2="514.34" y2="77.4" stroke="#000" stroke-width="0.9"/>
<line x1="517.04" y1="79" x2="520.44" y2="79" stroke="#111" stroke-width="1.4"/>
<g transform="translate(417.2 74.7)" stroke="#1a1a1a" stroke-width="1.0" stroke-linecap="round"><line x1="0" y1="-1.5" x2="0" y2="1.5"/><line x1="-1.3" y1="-0.75" x2="1.3" y2="0.75"/><line x1="-1.3" y1="0.75" x2="1.3" y2="-0.75"/></g>
<g transform="translate(429.8 63.6)" stroke="#1a1a1a" stroke-width="1.0" stroke-linecap="round"><line x1="0" y1="-1.5" x2="0" y2="1.5"/><line x1="-1.3" y1="-0.75" x2="1.3" y2="0.75"/><line x1="-1.3" y1="0.75" x2="1.3" y2="-0.75"/></g>
<g transform="translate(435.7 69.1)" stroke="#1a1a1a" stroke-width="1.0" stroke-linecap="round"><line x1="0" y1="-1.5" x2="0" y2="1.5"/><line x1="-1.3" y1="-0.75" x2="1.3" y2="0.75"/><line x1="-1.3" y1="0.75" x2="1.3" y2="-0.75"/></g>
<g transform="translate(470.8 75.5)" stroke="#1a1a1a" stroke-width="1.0" stroke-linecap="round"><line x1="0" y1="-1.5" x2="0" y2="1.5"/><line x1="-1.3" y1="-0.75" x2="1.3" y2="0.75"/><line x1="-1.3" y1="0.75" x2="1.3" y2="-0.75"/></g>
<g transform="translate(494.1 72.9)" stroke="#1a1a1a" stroke-width="1.0" stroke-linecap="round"><line x1="0" y1="-1.5" x2="0" y2="1.5"/><line x1="-1.3" y1="-0.75" x2="1.3" y2="0.75"/><line x1="-1.3" y1="0.75" x2="1.3" y2="-0.75"/></g>
<g transform="translate(500.5 70.4)" stroke="#1a1a1a" stroke-width="1.0" stroke-linecap="round"><line x1="0" y1="-1.5" x2="0" y2="1.5"/><line x1="-1.3" y1="-0.75" x2="1.3" y2="0.75"/><line x1="-1.3" y1="0.75" x2="1.3" y2="-0.75"/></g>
<polyline points="394.75,84.4 400.66,84.4 406.56,84.4 412.46,82.52 418.37,83.06 424.27,80.11 430.18,69.66 436.08,76.9 441.99,83.86 447.89,84.4 453.79,84.4 459.7,84.4 465.6,84.29 471.51,83.33 477.41,78.5 483.31,76.09 489.22,80.38 495.12,82.52 501.03,81.45 506.93,84.29 512.84,84 518.74,84.27 524.64,84.4 530.55,84.4" fill="none" stroke="#ff0000" stroke-width="1.0" stroke-linejoin="round"/>
<rect x="393.4" y="83.05" width="2.7" height="2.7" fill="#ff0000"/>
<rect x="399.31" y="83.05" width="2.7" height="2.7" fill="#ff0000"/>
<rect x="405.21" y="83.05" width="2.7" height="2.7" fill="#ff0000"/>
<rect x="411.11" y="81.17" width="2.7" height="2.7" fill="#ff0000"/>
<rect x="417.02" y="81.71" width="2.7" height="2.7" fill="#ff0000"/>
<rect x="422.92" y="78.76" width="2.7" height="2.7" fill="#ff0000"/>
<rect x="428.83" y="68.31" width="2.7" height="2.7" fill="#ff0000"/>
<rect x="434.73" y="75.55" width="2.7" height="2.7" fill="#ff0000"/>
<rect x="440.64" y="82.51" width="2.7" height="2.7" fill="#ff0000"/>
<rect x="446.54" y="83.05" width="2.7" height="2.7" fill="#ff0000"/>
<rect x="452.44" y="83.05" width="2.7" height="2.7" fill="#ff0000"/>
<rect x="458.35" y="83.05" width="2.7" height="2.7" fill="#ff0000"/>
<rect x="464.25" y="82.94" width="2.7" height="2.7" fill="#ff0000"/>
<rect x="470.16" y="81.98" width="2.7" height="2.7" fill="#ff0000"/>
<rect x="476.06" y="77.15" width="2.7" height="2.7" fill="#ff0000"/>
<rect x="481.96" y="74.74" width="2.7" height="2.7" fill="#ff0000"/>
<rect x="487.87" y="79.03" width="2.7" height="2.7" fill="#ff0000"/>
<rect x="493.77" y="81.17" width="2.7" height="2.7" fill="#ff0000"/>
<rect x="499.68" y="80.1" width="2.7" height="2.7" fill="#ff0000"/>
<rect x="505.58" y="82.94" width="2.7" height="2.7" fill="#ff0000"/>
<rect x="511.49" y="82.65" width="2.7" height="2.7" fill="#ff0000"/>
<rect x="517.39" y="82.92" width="2.7" height="2.7" fill="#ff0000"/>
<rect x="523.29" y="83.05" width="2.7" height="2.7" fill="#ff0000"/>
<rect x="529.2" y="83.05" width="2.7" height="2.7" fill="#ff0000"/>
<polyline points="394.75,84.4 400.66,84.4 406.56,84.4 412.46,83.86 418.37,80.38 424.27,76.63 430.18,47.95 436.08,49.02 441.99,83.06 447.89,84.4 453.79,84.4 459.7,84.4 465.6,81.18 471.51,60.55 477.41,59.74 483.31,58.67 489.22,66.44 495.12,69.12 501.03,64.57 506.93,79.04 512.84,81.45 518.74,83.33 524.64,84 530.55,84.4" fill="none" stroke="#0000ff" stroke-width="1.0" stroke-linejoin="round"/>
<circle cx="394.75" cy="84.4" r="1.5" fill="#0000ff"/>
<circle cx="400.66" cy="84.4" r="1.5" fill="#0000ff"/>
<circle cx="406.56" cy="84.4" r="1.5" fill="#0000ff"/>
<circle cx="412.46" cy="83.86" r="1.5" fill="#0000ff"/>
<circle cx="418.37" cy="80.38" r="1.5" fill="#0000ff"/>
<circle cx="424.27" cy="76.63" r="1.5" fill="#0000ff"/>
<circle cx="430.18" cy="47.95" r="1.5" fill="#0000ff"/>
<circle cx="436.08" cy="49.02" r="1.5" fill="#0000ff"/>
<circle cx="441.99" cy="83.06" r="1.5" fill="#0000ff"/>
<circle cx="447.89" cy="84.4" r="1.5" fill="#0000ff"/>
<circle cx="453.79" cy="84.4" r="1.5" fill="#0000ff"/>
<circle cx="459.7" cy="84.4" r="1.5" fill="#0000ff"/>
<circle cx="465.6" cy="81.18" r="1.5" fill="#0000ff"/>
<circle cx="471.51" cy="60.55" r="1.5" fill="#0000ff"/>
<circle cx="477.41" cy="59.74" r="1.5" fill="#0000ff"/>
<circle cx="483.31" cy="58.67" r="1.5" fill="#0000ff"/>
<circle cx="489.22" cy="66.44" r="1.5" fill="#0000ff"/>
<circle cx="495.12" cy="69.12" r="1.5" fill="#0000ff"/>
<circle cx="501.03" cy="64.57" r="1.5" fill="#0000ff"/>
<circle cx="506.93" cy="79.04" r="1.5" fill="#0000ff"/>
<circle cx="512.84" cy="81.45" r="1.5" fill="#0000ff"/>
<circle cx="518.74" cy="83.33" r="1.5" fill="#0000ff"/>
<circle cx="524.64" cy="84" r="1.5" fill="#0000ff"/>
<circle cx="530.55" cy="84.4" r="1.5" fill="#0000ff"/>
<text x="448.7" y="46.6" font-size="7" font-weight="bold" font-style="normal" fill="#000" text-anchor="start" stroke="#000" stroke-width="0.3" textLength="11.3" lengthAdjust="spacingAndGlyphs" >LSD</text>
<text x="462.2" y="48.8" font-size="5.0" font-weight="bold" font-style="normal" fill="#555" text-anchor="start" textLength="8.3" lengthAdjust="spacingAndGlyphs" >0.05</text>
<text x="397.5" y="11.5" font-size="7.2" font-weight="bold" font-style="italic" fill="#000" text-anchor="start" textLength="41.3" lengthAdjust="spacingAndGlyphs" >Centranthus</text>
<text x="441.1" y="11.5" font-size="7.2" font-weight="bold" font-style="italic" fill="#000" text-anchor="start" textLength="19.4" lengthAdjust="spacingAndGlyphs" >ruber</text>
<text x="462.5" y="11.5" font-size="7.2" font-weight="bold" font-style="normal" fill="#000" text-anchor="start" textLength="22.9" lengthAdjust="spacingAndGlyphs" >subsp.</text>
<text x="487.5" y="11.5" font-size="7.2" font-weight="bold" font-style="italic" fill="#000" text-anchor="start" textLength="33.5" lengthAdjust="spacingAndGlyphs" >sibthorpii</text>
<rect x="237.1" y="142.4" width="24.4" height="57.7" fill="#c0c0c0" stroke="#8a8a8a" stroke-width="0.8"/>
<rect x="306.2" y="143" width="26.6" height="57.1" fill="#c0c0c0" stroke="#8a8a8a" stroke-width="0.8"/>
<rect x="317.2" y="143.4" width="15.6" height="56.7" fill="#d2d3d8"/>
<rect x="318.6" y="143.2" width="1.4" height="56.9" fill="url(#gold)" stroke="#75683f" stroke-width="0.45"/>
<rect x="323.6" y="143.2" width="1.9" height="56.9" fill="url(#gold)" stroke="#75683f" stroke-width="0.45"/>
<rect x="328.8" y="143.2" width="3.8" height="56.9" fill="url(#gold)" stroke="#75683f" stroke-width="0.45"/>
<line x1="332.8" y1="143" x2="332.8" y2="200.1" stroke="#767a84" stroke-width="0.8"/>
<line x1="306.2" y1="143" x2="332.8" y2="143" stroke="#8a8a8a" stroke-width="0.8"/>
<line x1="220" y1="132.7" x2="220" y2="200.6" stroke="#000" stroke-width="1.35"/>
<line x1="219.5" y1="200.1" x2="362" y2="200.1" stroke="#000" stroke-width="1.3"/>
<line x1="220" y1="200.1" x2="220" y2="202.6" stroke="#000" stroke-width="1.0"/>
<line x1="225.9" y1="200.1" x2="225.9" y2="202.6" stroke="#000" stroke-width="1.0"/>
<line x1="231.81" y1="200.1" x2="231.81" y2="202.6" stroke="#000" stroke-width="1.0"/>
<line x1="237.71" y1="200.1" x2="237.71" y2="202.6" stroke="#000" stroke-width="1.0"/>
<line x1="243.62" y1="200.1" x2="243.62" y2="202.6" stroke="#000" stroke-width="1.0"/>
<line x1="249.52" y1="200.1" x2="249.52" y2="202.6" stroke="#000" stroke-width="1.0"/>
<line x1="255.43" y1="200.1" x2="255.43" y2="202.6" stroke="#000" stroke-width="1.0"/>
<line x1="261.33" y1="200.1" x2="261.33" y2="202.6" stroke="#000" stroke-width="1.0"/>
<line x1="267.23" y1="200.1" x2="267.23" y2="202.6" stroke="#000" stroke-width="1.0"/>
<line x1="273.14" y1="200.1" x2="273.14" y2="202.6" stroke="#000" stroke-width="1.0"/>
<line x1="279.04" y1="200.1" x2="279.04" y2="202.6" stroke="#000" stroke-width="1.0"/>
<line x1="284.95" y1="200.1" x2="284.95" y2="202.6" stroke="#000" stroke-width="1.0"/>
<line x1="290.85" y1="200.1" x2="290.85" y2="202.6" stroke="#000" stroke-width="1.0"/>
<line x1="296.75" y1="200.1" x2="296.75" y2="202.6" stroke="#000" stroke-width="1.0"/>
<line x1="302.66" y1="200.1" x2="302.66" y2="202.6" stroke="#000" stroke-width="1.0"/>
<line x1="308.56" y1="200.1" x2="308.56" y2="202.6" stroke="#000" stroke-width="1.0"/>
<line x1="314.47" y1="200.1" x2="314.47" y2="202.6" stroke="#000" stroke-width="1.0"/>
<line x1="320.37" y1="200.1" x2="320.37" y2="202.6" stroke="#000" stroke-width="1.0"/>
<line x1="326.27" y1="200.1" x2="326.27" y2="202.6" stroke="#000" stroke-width="1.0"/>
<line x1="332.18" y1="200.1" x2="332.18" y2="202.6" stroke="#000" stroke-width="1.0"/>
<line x1="338.08" y1="200.1" x2="338.08" y2="202.6" stroke="#000" stroke-width="1.0"/>
<line x1="343.99" y1="200.1" x2="343.99" y2="202.6" stroke="#000" stroke-width="1.0"/>
<line x1="349.89" y1="200.1" x2="349.89" y2="202.6" stroke="#000" stroke-width="1.0"/>
<line x1="355.8" y1="200.1" x2="355.8" y2="202.6" stroke="#000" stroke-width="1.0"/>
<line x1="361.7" y1="200.1" x2="361.7" y2="202.6" stroke="#000" stroke-width="1.0"/>
<line x1="217.7" y1="200.1" x2="220" y2="200.1" stroke="#000" stroke-width="0.9"/>
<text x="213" y="202.6" font-size="7" font-weight="bold" font-style="normal" fill="#000" text-anchor="end" >0</text>
<line x1="217.7" y1="186.7" x2="220" y2="186.7" stroke="#000" stroke-width="0.9"/>
<text x="213" y="189.2" font-size="7" font-weight="bold" font-style="normal" fill="#000" text-anchor="end" >100</text>
<line x1="217.7" y1="173.3" x2="220" y2="173.3" stroke="#000" stroke-width="0.9"/>
<text x="213" y="175.8" font-size="7" font-weight="bold" font-style="normal" fill="#000" text-anchor="end" >200</text>
<line x1="217.7" y1="159.9" x2="220" y2="159.9" stroke="#000" stroke-width="0.9"/>
<text x="213" y="162.4" font-size="7" font-weight="bold" font-style="normal" fill="#000" text-anchor="end" >300</text>
<line x1="217.7" y1="146.5" x2="220" y2="146.5" stroke="#000" stroke-width="0.9"/>
<text x="213" y="149" font-size="7" font-weight="bold" font-style="normal" fill="#000" text-anchor="end" >400</text>
<line x1="217.7" y1="133.1" x2="220" y2="133.1" stroke="#000" stroke-width="0.9"/>
<text x="213" y="135.6" font-size="7" font-weight="bold" font-style="normal" fill="#000" text-anchor="end" >500</text>
<line x1="218.2" y1="193.4" x2="220" y2="193.4" stroke="#000" stroke-width="0.9"/>
<line x1="218.2" y1="180" x2="220" y2="180" stroke="#000" stroke-width="0.9"/>
<line x1="218.2" y1="166.6" x2="220" y2="166.6" stroke="#000" stroke-width="0.9"/>
<line x1="218.2" y1="153.2" x2="220" y2="153.2" stroke="#000" stroke-width="0.9"/>
<line x1="218.2" y1="139.8" x2="220" y2="139.8" stroke="#000" stroke-width="0.9"/>
<line x1="240.66" y1="192.9" x2="240.66" y2="195.2" stroke="#000" stroke-width="1.0"/>
<line x1="239.16" y1="192.9" x2="242.16" y2="192.9" stroke="#000" stroke-width="0.9"/>
<line x1="239.16" y1="195.2" x2="242.16" y2="195.2" stroke="#000" stroke-width="0.9"/>
<line x1="246.57" y1="193.9" x2="246.57" y2="196.3" stroke="#000" stroke-width="1.0"/>
<line x1="245.07" y1="193.9" x2="248.07" y2="193.9" stroke="#000" stroke-width="0.9"/>
<line x1="245.07" y1="196.3" x2="248.07" y2="196.3" stroke="#000" stroke-width="0.9"/>
<rect x="250.77" y="195.2" width="3.4" height="2.3" fill="#151515"/>
<line x1="256.68" y1="196.3" x2="260.08" y2="196.3" stroke="#111" stroke-width="1.4"/>
<line x1="311.51" y1="137.3" x2="311.51" y2="152.3" stroke="#000" stroke-width="1.0"/>
<line x1="310.01" y1="137.3" x2="313.01" y2="137.3" stroke="#000" stroke-width="0.9"/>
<line x1="310.01" y1="152.3" x2="313.01" y2="152.3" stroke="#000" stroke-width="0.9"/>
<line x1="317.42" y1="175.5" x2="317.42" y2="183.3" stroke="#000" stroke-width="1.0"/>
<line x1="315.92" y1="175.5" x2="318.92" y2="175.5" stroke="#000" stroke-width="0.9"/>
<line x1="315.92" y1="183.3" x2="318.92" y2="183.3" stroke="#000" stroke-width="0.9"/>
<line x1="323.32" y1="191" x2="323.32" y2="193.7" stroke="#000" stroke-width="1.0"/>
<line x1="321.82" y1="191" x2="324.82" y2="191" stroke="#000" stroke-width="0.9"/>
<line x1="321.82" y1="193.7" x2="324.82" y2="193.7" stroke="#000" stroke-width="0.9"/>
<polyline points="222.95,200.1 228.86,200.1 234.76,200.1 240.66,197.69 246.57,200.1 252.47,198.09 258.38,200.1 264.28,200.1 270.19,200.1 276.09,200.1 281.99,200.1 287.9,200.1 293.8,200.1 299.71,200.1 305.61,200.1 311.51,170.35 317.42,191.66 323.32,200.1 329.23,200.1 335.13,200.1 341.04,200.1 346.94,200.1 352.84,200.1 358.75,200.1" fill="none" stroke="#ff0000" stroke-width="1.0" stroke-linejoin="round"/>
<rect x="221.6" y="198.75" width="2.7" height="2.7" fill="#ff0000"/>
<rect x="227.51" y="198.75" width="2.7" height="2.7" fill="#ff0000"/>
<rect x="233.41" y="198.75" width="2.7" height="2.7" fill="#ff0000"/>
<rect x="239.31" y="196.34" width="2.7" height="2.7" fill="#ff0000"/>
<rect x="245.22" y="198.75" width="2.7" height="2.7" fill="#ff0000"/>
<rect x="251.12" y="196.74" width="2.7" height="2.7" fill="#ff0000"/>
<rect x="257.03" y="198.75" width="2.7" height="2.7" fill="#ff0000"/>
<rect x="262.93" y="198.75" width="2.7" height="2.7" fill="#ff0000"/>
<rect x="268.84" y="198.75" width="2.7" height="2.7" fill="#ff0000"/>
<rect x="274.74" y="198.75" width="2.7" height="2.7" fill="#ff0000"/>
<rect x="280.64" y="198.75" width="2.7" height="2.7" fill="#ff0000"/>
<rect x="286.55" y="198.75" width="2.7" height="2.7" fill="#ff0000"/>
<rect x="292.45" y="198.75" width="2.7" height="2.7" fill="#ff0000"/>
<rect x="298.36" y="198.75" width="2.7" height="2.7" fill="#ff0000"/>
<rect x="304.26" y="198.75" width="2.7" height="2.7" fill="#ff0000"/>
<rect x="310.16" y="169" width="2.7" height="2.7" fill="#ff0000"/>
<rect x="316.07" y="190.31" width="2.7" height="2.7" fill="#ff0000"/>
<rect x="321.97" y="198.75" width="2.7" height="2.7" fill="#ff0000"/>
<rect x="327.88" y="198.75" width="2.7" height="2.7" fill="#ff0000"/>
<rect x="333.78" y="198.75" width="2.7" height="2.7" fill="#ff0000"/>
<rect x="339.69" y="198.75" width="2.7" height="2.7" fill="#ff0000"/>
<rect x="345.59" y="198.75" width="2.7" height="2.7" fill="#ff0000"/>
<rect x="351.49" y="198.75" width="2.7" height="2.7" fill="#ff0000"/>
<rect x="357.4" y="198.75" width="2.7" height="2.7" fill="#ff0000"/>
<polyline points="222.95,200.1 228.86,200.1 234.76,200.1 240.66,198.49 246.57,198.49 252.47,199.43 258.38,198.76 264.28,200.1 270.19,200.1 276.09,200.1 281.99,200.1 287.9,200.1 293.8,200.1 299.71,200.1 305.61,200.1 311.51,156.55 317.42,187.1 323.32,200.1 329.23,200.1 335.13,200.1 341.04,200.1 346.94,200.1 352.84,200.1 358.75,200.1" fill="none" stroke="#0000ff" stroke-width="1.0" stroke-linejoin="round"/>
<circle cx="222.95" cy="200.1" r="1.5" fill="#0000ff"/>
<circle cx="228.86" cy="200.1" r="1.5" fill="#0000ff"/>
<circle cx="234.76" cy="200.1" r="1.5" fill="#0000ff"/>
<circle cx="240.66" cy="198.49" r="1.5" fill="#0000ff"/>
<circle cx="246.57" cy="198.49" r="1.5" fill="#0000ff"/>
<circle cx="252.47" cy="199.43" r="1.5" fill="#0000ff"/>
<circle cx="258.38" cy="198.76" r="1.5" fill="#0000ff"/>
<circle cx="264.28" cy="200.1" r="1.5" fill="#0000ff"/>
<circle cx="270.19" cy="200.1" r="1.5" fill="#0000ff"/>
<circle cx="276.09" cy="200.1" r="1.5" fill="#0000ff"/>
<circle cx="281.99" cy="200.1" r="1.5" fill="#0000ff"/>
<circle cx="287.9" cy="200.1" r="1.5" fill="#0000ff"/>
<circle cx="293.8" cy="200.1" r="1.5" fill="#0000ff"/>
<circle cx="299.71" cy="200.1" r="1.5" fill="#0000ff"/>
<circle cx="305.61" cy="200.1" r="1.5" fill="#0000ff"/>
<circle cx="311.51" cy="156.55" r="1.5" fill="#0000ff"/>
<circle cx="317.42" cy="187.1" r="1.5" fill="#0000ff"/>
<circle cx="323.32" cy="200.1" r="1.5" fill="#0000ff"/>
<circle cx="329.23" cy="200.1" r="1.5" fill="#0000ff"/>
<circle cx="335.13" cy="200.1" r="1.5" fill="#0000ff"/>
<circle cx="341.04" cy="200.1" r="1.5" fill="#0000ff"/>
<circle cx="346.94" cy="200.1" r="1.5" fill="#0000ff"/>
<circle cx="352.84" cy="200.1" r="1.5" fill="#0000ff"/>
<circle cx="358.75" cy="200.1" r="1.5" fill="#0000ff"/>
<text x="289.1" y="148.1" font-size="7" font-weight="bold" font-style="normal" fill="#000" text-anchor="start" stroke="#000" stroke-width="0.3" textLength="11.3" lengthAdjust="spacingAndGlyphs" >LSD</text>
<text x="302.2" y="149.7" font-size="5.0" font-weight="bold" font-style="normal" fill="#555" text-anchor="start" textLength="8.4" lengthAdjust="spacingAndGlyphs" >0.05</text>
<text x="248.2" y="126.5" font-size="9.5" font-weight="bold" font-style="italic" fill="#000" text-anchor="start" textLength="76" lengthAdjust="spacingAndGlyphs" >Sedum sediforme</text>
<rect x="409.1" y="141.3" width="24" height="59.15" fill="#c0c0c0" stroke="#8a8a8a" stroke-width="0.8"/>
<rect x="478.1" y="141.3" width="27.5" height="59.15" fill="#c0c0c0" stroke="#8a8a8a" stroke-width="0.8"/>
<rect x="486.8" y="141.7" width="18.8" height="58.75" fill="#d2d3d8"/>
<rect x="488.2" y="141.5" width="1.8" height="58.95" fill="url(#gold)" stroke="#75683f" stroke-width="0.45"/>
<rect x="494.6" y="141.5" width="1.7" height="58.95" fill="url(#gold)" stroke="#75683f" stroke-width="0.45"/>
<rect x="502.6" y="141.5" width="1.8" height="58.95" fill="url(#gold)" stroke="#75683f" stroke-width="0.45"/>
<line x1="505.6" y1="141.3" x2="505.6" y2="200.45" stroke="#767a84" stroke-width="0.8"/>
<line x1="478.1" y1="141.3" x2="505.6" y2="141.3" stroke="#8a8a8a" stroke-width="0.8"/>
<line x1="392" y1="133.1" x2="392" y2="200.95" stroke="#000" stroke-width="1.35"/>
<line x1="391.5" y1="200.45" x2="533" y2="200.45" stroke="#000" stroke-width="1.3"/>
<line x1="392" y1="200.45" x2="392" y2="202.95" stroke="#000" stroke-width="1.0"/>
<line x1="397.86" y1="200.45" x2="397.86" y2="202.95" stroke="#000" stroke-width="1.0"/>
<line x1="403.73" y1="200.45" x2="403.73" y2="202.95" stroke="#000" stroke-width="1.0"/>
<line x1="409.59" y1="200.45" x2="409.59" y2="202.95" stroke="#000" stroke-width="1.0"/>
<line x1="415.45" y1="200.45" x2="415.45" y2="202.95" stroke="#000" stroke-width="1.0"/>
<line x1="421.31" y1="200.45" x2="421.31" y2="202.95" stroke="#000" stroke-width="1.0"/>
<line x1="427.18" y1="200.45" x2="427.18" y2="202.95" stroke="#000" stroke-width="1.0"/>
<line x1="433.04" y1="200.45" x2="433.04" y2="202.95" stroke="#000" stroke-width="1.0"/>
<line x1="438.9" y1="200.45" x2="438.9" y2="202.95" stroke="#000" stroke-width="1.0"/>
<line x1="444.76" y1="200.45" x2="444.76" y2="202.95" stroke="#000" stroke-width="1.0"/>
<line x1="450.62" y1="200.45" x2="450.62" y2="202.95" stroke="#000" stroke-width="1.0"/>
<line x1="456.49" y1="200.45" x2="456.49" y2="202.95" stroke="#000" stroke-width="1.0"/>
<line x1="462.35" y1="200.45" x2="462.35" y2="202.95" stroke="#000" stroke-width="1.0"/>
<line x1="468.21" y1="200.45" x2="468.21" y2="202.95" stroke="#000" stroke-width="1.0"/>
<line x1="474.08" y1="200.45" x2="474.08" y2="202.95" stroke="#000" stroke-width="1.0"/>
<line x1="479.94" y1="200.45" x2="479.94" y2="202.95" stroke="#000" stroke-width="1.0"/>
<line x1="485.8" y1="200.45" x2="485.8" y2="202.95" stroke="#000" stroke-width="1.0"/>
<line x1="491.66" y1="200.45" x2="491.66" y2="202.95" stroke="#000" stroke-width="1.0"/>
<line x1="497.53" y1="200.45" x2="497.53" y2="202.95" stroke="#000" stroke-width="1.0"/>
<line x1="503.39" y1="200.45" x2="503.39" y2="202.95" stroke="#000" stroke-width="1.0"/>
<line x1="509.25" y1="200.45" x2="509.25" y2="202.95" stroke="#000" stroke-width="1.0"/>
<line x1="515.11" y1="200.45" x2="515.11" y2="202.95" stroke="#000" stroke-width="1.0"/>
<line x1="520.98" y1="200.45" x2="520.98" y2="202.95" stroke="#000" stroke-width="1.0"/>
<line x1="526.84" y1="200.45" x2="526.84" y2="202.95" stroke="#000" stroke-width="1.0"/>
<line x1="532.7" y1="200.45" x2="532.7" y2="202.95" stroke="#000" stroke-width="1.0"/>
<line x1="389.7" y1="200.45" x2="392" y2="200.45" stroke="#000" stroke-width="0.9"/>
<text x="385" y="202.95" font-size="7" font-weight="bold" font-style="normal" fill="#000" text-anchor="end" >0</text>
<line x1="389.7" y1="183.71" x2="392" y2="183.71" stroke="#000" stroke-width="0.9"/>
<text x="385" y="186.21" font-size="7" font-weight="bold" font-style="normal" fill="#000" text-anchor="end" >100</text>
<line x1="389.7" y1="166.97" x2="392" y2="166.97" stroke="#000" stroke-width="0.9"/>
<text x="385" y="169.47" font-size="7" font-weight="bold" font-style="normal" fill="#000" text-anchor="end" >200</text>
<line x1="389.7" y1="150.24" x2="392" y2="150.24" stroke="#000" stroke-width="0.9"/>
<text x="385" y="152.74" font-size="7" font-weight="bold" font-style="normal" fill="#000" text-anchor="end" >300</text>
<line x1="389.7" y1="133.5" x2="392" y2="133.5" stroke="#000" stroke-width="0.9"/>
<text x="385" y="136" font-size="7" font-weight="bold" font-style="normal" fill="#000" text-anchor="end" >400</text>
<line x1="390.2" y1="192.08" x2="392" y2="192.08" stroke="#000" stroke-width="0.9"/>
<line x1="390.2" y1="175.34" x2="392" y2="175.34" stroke="#000" stroke-width="0.9"/>
<line x1="390.2" y1="158.61" x2="392" y2="158.61" stroke="#000" stroke-width="0.9"/>
<line x1="390.2" y1="141.87" x2="392" y2="141.87" stroke="#000" stroke-width="0.9"/>
<rect x="411.87" y="178.6" width="1.3" height="5.6" fill="#8a8a8a" stroke="#4a4a4a" stroke-width="0.45"/>
<line x1="410.77" y1="178.6" x2="414.27" y2="178.6" stroke="#333" stroke-width="0.9"/>
<line x1="410.77" y1="184.2" x2="414.27" y2="184.2" stroke="#333" stroke-width="0.9"/>
<rect x="417.73" y="162.1" width="1.3" height="10.2" fill="#8a8a8a" stroke="#4a4a4a" stroke-width="0.45"/>
<line x1="416.63" y1="162.1" x2="420.13" y2="162.1" stroke="#333" stroke-width="0.9"/>
<line x1="416.63" y1="172.3" x2="420.13" y2="172.3" stroke="#333" stroke-width="0.9"/>
<rect x="423.59" y="150.3" width="1.3" height="9" fill="#8a8a8a" stroke="#4a4a4a" stroke-width="0.45"/>
<line x1="422.49" y1="150.3" x2="425.99" y2="150.3" stroke="#333" stroke-width="0.9"/>
<line x1="422.49" y1="159.3" x2="425.99" y2="159.3" stroke="#333" stroke-width="0.9"/>
<rect x="429.46" y="150.6" width="1.3" height="8.7" fill="#8a8a8a" stroke="#4a4a4a" stroke-width="0.45"/>
<line x1="428.36" y1="150.6" x2="431.86" y2="150.6" stroke="#333" stroke-width="0.9"/>
<line x1="428.36" y1="159.3" x2="431.86" y2="159.3" stroke="#333" stroke-width="0.9"/>
<rect x="435.32" y="169.5" width="1.3" height="6" fill="#8a8a8a" stroke="#4a4a4a" stroke-width="0.45"/>
<line x1="434.22" y1="169.5" x2="437.72" y2="169.5" stroke="#333" stroke-width="0.9"/>
<line x1="434.22" y1="175.5" x2="437.72" y2="175.5" stroke="#333" stroke-width="0.9"/>
<line x1="441.83" y1="189.5" x2="441.83" y2="193" stroke="#000" stroke-width="1.0"/>
<line x1="440.33" y1="189.5" x2="443.33" y2="189.5" stroke="#000" stroke-width="0.9"/>
<line x1="440.33" y1="193" x2="443.33" y2="193" stroke="#000" stroke-width="0.9"/>
<line x1="469.44" y1="196" x2="472.84" y2="196" stroke="#111" stroke-width="1.4"/>
<line x1="477.01" y1="179.4" x2="477.01" y2="186" stroke="#000" stroke-width="1.0"/>
<line x1="475.51" y1="179.4" x2="478.51" y2="179.4" stroke="#000" stroke-width="0.9"/>
<line x1="475.51" y1="186" x2="478.51" y2="186" stroke="#000" stroke-width="0.9"/>
<line x1="482.87" y1="146.6" x2="482.87" y2="159" stroke="#333" stroke-width="1.25"/>
<line x1="481.37" y1="146.6" x2="484.37" y2="146.6" stroke="#333" stroke-width="0.9"/>
<line x1="481.37" y1="159" x2="484.37" y2="159" stroke="#333" stroke-width="0.9"/>
<line x1="488.73" y1="145.7" x2="488.73" y2="156.7" stroke="#000" stroke-width="1.0"/>
<line x1="487.23" y1="145.7" x2="490.23" y2="145.7" stroke="#000" stroke-width="0.9"/>
<line x1="487.23" y1="156.7" x2="490.23" y2="156.7" stroke="#000" stroke-width="0.9"/>
<line x1="494.59" y1="138.4" x2="494.59" y2="151.6" stroke="#000" stroke-width="1.0"/>
<line x1="493.09" y1="138.4" x2="496.09" y2="138.4" stroke="#000" stroke-width="0.9"/>
<line x1="493.09" y1="151.6" x2="496.09" y2="151.6" stroke="#000" stroke-width="0.9"/>
<rect x="499.81" y="156.3" width="1.3" height="7.3" fill="#8a8a8a" stroke="#4a4a4a" stroke-width="0.45"/>
<line x1="498.71" y1="156.3" x2="502.21" y2="156.3" stroke="#333" stroke-width="0.9"/>
<line x1="498.71" y1="163.6" x2="502.21" y2="163.6" stroke="#333" stroke-width="0.9"/>
<line x1="506.32" y1="180.3" x2="506.32" y2="184.9" stroke="#000" stroke-width="1.0"/>
<line x1="504.82" y1="180.3" x2="507.82" y2="180.3" stroke="#000" stroke-width="0.9"/>
<line x1="504.82" y1="184.9" x2="507.82" y2="184.9" stroke="#000" stroke-width="0.9"/>
<g transform="translate(423.2 178.3)" stroke="#1a1a1a" stroke-width="1.0" stroke-linecap="round"><line x1="0" y1="-1.5" x2="0" y2="1.5"/><line x1="-1.3" y1="-0.75" x2="1.3" y2="0.75"/><line x1="-1.3" y1="0.75" x2="1.3" y2="-0.75"/></g>
<g transform="translate(429.5 178.6)" stroke="#1a1a1a" stroke-width="1.0" stroke-linecap="round"><line x1="0" y1="-1.5" x2="0" y2="1.5"/><line x1="-1.3" y1="-0.75" x2="1.3" y2="0.75"/><line x1="-1.3" y1="0.75" x2="1.3" y2="-0.75"/></g>
<g transform="translate(435.1 183.5)" stroke="#1a1a1a" stroke-width="1.0" stroke-linecap="round"><line x1="0" y1="-1.5" x2="0" y2="1.5"/><line x1="-1.3" y1="-0.75" x2="1.3" y2="0.75"/><line x1="-1.3" y1="0.75" x2="1.3" y2="-0.75"/></g>
<polyline points="394.93,200.45 400.79,200.45 406.66,199.11 412.52,192.58 418.38,186.39 424.24,183.04 430.11,183.04 435.97,188.4 441.83,197.1 447.69,200.45 453.56,200.45 459.42,200.45 465.28,200.45 471.14,199.11 477.01,189.91 482.87,166.81 488.73,165.3 494.59,166.14 500.46,174.17 506.32,189.91 512.18,200.45 518.04,200.45 523.91,200.45 529.77,200.45" fill="none" stroke="#ff0000" stroke-width="1.0" stroke-linejoin="round"/>
<rect x="393.58" y="199.1" width="2.7" height="2.7" fill="#ff0000"/>
<rect x="399.44" y="199.1" width="2.7" height="2.7" fill="#ff0000"/>
<rect x="405.31" y="197.76" width="2.7" height="2.7" fill="#ff0000"/>
<rect x="411.17" y="191.23" width="2.7" height="2.7" fill="#ff0000"/>
<rect x="417.03" y="185.04" width="2.7" height="2.7" fill="#ff0000"/>
<rect x="422.89" y="181.69" width="2.7" height="2.7" fill="#ff0000"/>
<rect x="428.76" y="181.69" width="2.7" height="2.7" fill="#ff0000"/>
<rect x="434.62" y="187.05" width="2.7" height="2.7" fill="#ff0000"/>
<rect x="440.48" y="195.75" width="2.7" height="2.7" fill="#ff0000"/>
<rect x="446.34" y="199.1" width="2.7" height="2.7" fill="#ff0000"/>
<rect x="452.21" y="199.1" width="2.7" height="2.7" fill="#ff0000"/>
<rect x="458.07" y="199.1" width="2.7" height="2.7" fill="#ff0000"/>
<rect x="463.93" y="199.1" width="2.7" height="2.7" fill="#ff0000"/>
<rect x="469.79" y="197.76" width="2.7" height="2.7" fill="#ff0000"/>
<rect x="475.66" y="188.56" width="2.7" height="2.7" fill="#ff0000"/>
<rect x="481.52" y="165.46" width="2.7" height="2.7" fill="#ff0000"/>
<rect x="487.38" y="163.95" width="2.7" height="2.7" fill="#ff0000"/>
<rect x="493.24" y="164.79" width="2.7" height="2.7" fill="#ff0000"/>
<rect x="499.11" y="172.82" width="2.7" height="2.7" fill="#ff0000"/>
<rect x="504.97" y="188.56" width="2.7" height="2.7" fill="#ff0000"/>
<rect x="510.83" y="199.1" width="2.7" height="2.7" fill="#ff0000"/>
<rect x="516.69" y="199.1" width="2.7" height="2.7" fill="#ff0000"/>
<rect x="522.56" y="199.1" width="2.7" height="2.7" fill="#ff0000"/>
<rect x="528.42" y="199.1" width="2.7" height="2.7" fill="#ff0000"/>
<polyline points="394.93,200.45 400.79,200.45 406.66,198.27 412.52,187.06 418.38,177.35 424.24,165.64 430.11,165.64 435.97,178.69 441.83,196.1 447.69,200.45 453.56,200.45 459.42,200.45 465.28,200.45 471.14,198.27 477.01,187.06 482.87,163.13 488.73,161.12 494.59,155.59 500.46,169.82 506.32,187.06 512.18,200.45 518.04,200.45 523.91,200.45 529.77,200.45" fill="none" stroke="#0000ff" stroke-width="1.0" stroke-linejoin="round"/>
<circle cx="394.93" cy="200.45" r="1.5" fill="#0000ff"/>
<circle cx="400.79" cy="200.45" r="1.5" fill="#0000ff"/>
<circle cx="406.66" cy="198.27" r="1.5" fill="#0000ff"/>
<circle cx="412.52" cy="187.06" r="1.5" fill="#0000ff"/>
<circle cx="418.38" cy="177.35" r="1.5" fill="#0000ff"/>
<circle cx="424.24" cy="165.64" r="1.5" fill="#0000ff"/>
<circle cx="430.11" cy="165.64" r="1.5" fill="#0000ff"/>
<circle cx="435.97" cy="178.69" r="1.5" fill="#0000ff"/>
<circle cx="441.83" cy="196.1" r="1.5" fill="#0000ff"/>
<circle cx="447.69" cy="200.45" r="1.5" fill="#0000ff"/>
<circle cx="453.56" cy="200.45" r="1.5" fill="#0000ff"/>
<circle cx="459.42" cy="200.45" r="1.5" fill="#0000ff"/>
<circle cx="465.28" cy="200.45" r="1.5" fill="#0000ff"/>
<circle cx="471.14" cy="198.27" r="1.5" fill="#0000ff"/>
<circle cx="477.01" cy="187.06" r="1.5" fill="#0000ff"/>
<circle cx="482.87" cy="163.13" r="1.5" fill="#0000ff"/>
<circle cx="488.73" cy="161.12" r="1.5" fill="#0000ff"/>
<circle cx="494.59" cy="155.59" r="1.5" fill="#0000ff"/>
<circle cx="500.46" cy="169.82" r="1.5" fill="#0000ff"/>
<circle cx="506.32" cy="187.06" r="1.5" fill="#0000ff"/>
<circle cx="512.18" cy="200.45" r="1.5" fill="#0000ff"/>
<circle cx="518.04" cy="200.45" r="1.5" fill="#0000ff"/>
<circle cx="523.91" cy="200.45" r="1.5" fill="#0000ff"/>
<circle cx="529.77" cy="200.45" r="1.5" fill="#0000ff"/>
<text x="459.1" y="152.5" font-size="7" font-weight="bold" font-style="normal" fill="#000" text-anchor="start" stroke="#000" stroke-width="0.3" textLength="11.6" lengthAdjust="spacingAndGlyphs" >LSD</text>
<text x="472.5" y="153.7" font-size="5.0" font-weight="bold" font-style="normal" fill="#555" text-anchor="start" textLength="8.1" lengthAdjust="spacingAndGlyphs" >0.05</text>
<text x="415.2" y="126.5" font-size="9.5" font-weight="bold" font-style="italic" fill="#000" text-anchor="start" textLength="85" lengthAdjust="spacingAndGlyphs" >Limonium graecum</text>
<rect x="58.4" y="258.2" width="24.1" height="57.8" fill="#c0c0c0" stroke="#8a8a8a" stroke-width="0.8"/>
<rect x="128.3" y="258.6" width="27.2" height="57.4" fill="#c0c0c0" stroke="#8a8a8a" stroke-width="0.8"/>
<rect x="138.6" y="259" width="16.9" height="57" fill="#d2d3d8"/>
<rect x="140" y="258.8" width="1.7" height="57.2" fill="url(#gold)" stroke="#75683f" stroke-width="0.45"/>
<rect x="145.9" y="258.8" width="2.1" height="57.2" fill="url(#gold)" stroke="#75683f" stroke-width="0.45"/>
<rect x="152.6" y="258.8" width="2.7" height="57.2" fill="url(#gold)" stroke="#75683f" stroke-width="0.45"/>
<line x1="155.5" y1="258.6" x2="155.5" y2="316" stroke="#767a84" stroke-width="0.8"/>
<line x1="128.3" y1="258.6" x2="155.5" y2="258.6" stroke="#8a8a8a" stroke-width="0.8"/>
<line x1="40.5" y1="248.4" x2="40.5" y2="316.5" stroke="#000" stroke-width="1.35"/>
<line x1="40" y1="316" x2="184.5" y2="316" stroke="#000" stroke-width="1.3"/>
<line x1="40.5" y1="316" x2="40.5" y2="318.5" stroke="#000" stroke-width="1.0"/>
<line x1="46.49" y1="316" x2="46.49" y2="318.5" stroke="#000" stroke-width="1.0"/>
<line x1="52.48" y1="316" x2="52.48" y2="318.5" stroke="#000" stroke-width="1.0"/>
<line x1="58.46" y1="316" x2="58.46" y2="318.5" stroke="#000" stroke-width="1.0"/>
<line x1="64.45" y1="316" x2="64.45" y2="318.5" stroke="#000" stroke-width="1.0"/>
<line x1="70.44" y1="316" x2="70.44" y2="318.5" stroke="#000" stroke-width="1.0"/>
<line x1="76.42" y1="316" x2="76.42" y2="318.5" stroke="#000" stroke-width="1.0"/>
<line x1="82.41" y1="316" x2="82.41" y2="318.5" stroke="#000" stroke-width="1.0"/>
<line x1="88.4" y1="316" x2="88.4" y2="318.5" stroke="#000" stroke-width="1.0"/>
<line x1="94.39" y1="316" x2="94.39" y2="318.5" stroke="#000" stroke-width="1.0"/>
<line x1="100.38" y1="316" x2="100.38" y2="318.5" stroke="#000" stroke-width="1.0"/>
<line x1="106.36" y1="316" x2="106.36" y2="318.5" stroke="#000" stroke-width="1.0"/>
<line x1="112.35" y1="316" x2="112.35" y2="318.5" stroke="#000" stroke-width="1.0"/>
<line x1="118.34" y1="316" x2="118.34" y2="318.5" stroke="#000" stroke-width="1.0"/>
<line x1="124.33" y1="316" x2="124.33" y2="318.5" stroke="#000" stroke-width="1.0"/>
<line x1="130.31" y1="316" x2="130.31" y2="318.5" stroke="#000" stroke-width="1.0"/>
<line x1="136.3" y1="316" x2="136.3" y2="318.5" stroke="#000" stroke-width="1.0"/>
<line x1="142.29" y1="316" x2="142.29" y2="318.5" stroke="#000" stroke-width="1.0"/>
<line x1="148.27" y1="316" x2="148.27" y2="318.5" stroke="#000" stroke-width="1.0"/>
<line x1="154.26" y1="316" x2="154.26" y2="318.5" stroke="#000" stroke-width="1.0"/>
<line x1="160.25" y1="316" x2="160.25" y2="318.5" stroke="#000" stroke-width="1.0"/>
<line x1="166.24" y1="316" x2="166.24" y2="318.5" stroke="#000" stroke-width="1.0"/>
<line x1="172.22" y1="316" x2="172.22" y2="318.5" stroke="#000" stroke-width="1.0"/>
<line x1="178.21" y1="316" x2="178.21" y2="318.5" stroke="#000" stroke-width="1.0"/>
<line x1="184.2" y1="316" x2="184.2" y2="318.5" stroke="#000" stroke-width="1.0"/>
<line x1="38.2" y1="316" x2="40.5" y2="316" stroke="#000" stroke-width="0.9"/>
<text x="33.5" y="318.5" font-size="7" font-weight="bold" font-style="normal" fill="#000" text-anchor="end" >0</text>
<line x1="38.2" y1="302.56" x2="40.5" y2="302.56" stroke="#000" stroke-width="0.9"/>
<text x="33.5" y="305.06" font-size="7" font-weight="bold" font-style="normal" fill="#000" text-anchor="end" >100</text>
<line x1="38.2" y1="289.12" x2="40.5" y2="289.12" stroke="#000" stroke-width="0.9"/>
<text x="33.5" y="291.62" font-size="7" font-weight="bold" font-style="normal" fill="#000" text-anchor="end" >200</text>
<line x1="38.2" y1="275.68" x2="40.5" y2="275.68" stroke="#000" stroke-width="0.9"/>
<text x="33.5" y="278.18" font-size="7" font-weight="bold" font-style="normal" fill="#000" text-anchor="end" >300</text>
<line x1="38.2" y1="262.24" x2="40.5" y2="262.24" stroke="#000" stroke-width="0.9"/>
<text x="33.5" y="264.74" font-size="7" font-weight="bold" font-style="normal" fill="#000" text-anchor="end" >400</text>
<line x1="38.2" y1="248.8" x2="40.5" y2="248.8" stroke="#000" stroke-width="0.9"/>
<text x="33.5" y="251.3" font-size="7" font-weight="bold" font-style="normal" fill="#000" text-anchor="end" >500</text>
<line x1="38.7" y1="309.28" x2="40.5" y2="309.28" stroke="#000" stroke-width="0.9"/>
<line x1="38.7" y1="295.84" x2="40.5" y2="295.84" stroke="#000" stroke-width="0.9"/>
<line x1="38.7" y1="282.4" x2="40.5" y2="282.4" stroke="#000" stroke-width="0.9"/>
<line x1="38.7" y1="268.96" x2="40.5" y2="268.96" stroke="#000" stroke-width="0.9"/>
<line x1="38.7" y1="255.52" x2="40.5" y2="255.52" stroke="#000" stroke-width="0.9"/>
<line x1="59.76" y1="311" x2="63.16" y2="311" stroke="#111" stroke-width="1.4"/>
<line x1="65.74" y1="311" x2="69.14" y2="311" stroke="#111" stroke-width="1.4"/>
<line x1="71.73" y1="312" x2="75.13" y2="312" stroke="#111" stroke-width="1.4"/>
<line x1="127.32" y1="282.8" x2="127.32" y2="288" stroke="#000" stroke-width="1.0"/>
<line x1="125.82" y1="282.8" x2="128.82" y2="282.8" stroke="#000" stroke-width="0.9"/>
<line x1="125.82" y1="288" x2="128.82" y2="288" stroke="#000" stroke-width="0.9"/>
<line x1="125.62" y1="301" x2="129.02" y2="301" stroke="#111" stroke-width="1.4"/>
<line x1="133.31" y1="260.6" x2="133.31" y2="274.7" stroke="#000" stroke-width="1.0"/>
<line x1="131.81" y1="260.6" x2="134.81" y2="260.6" stroke="#000" stroke-width="0.9"/>
<line x1="131.81" y1="274.7" x2="134.81" y2="274.7" stroke="#000" stroke-width="0.9"/>
<line x1="137.59" y1="307.4" x2="140.99" y2="307.4" stroke="#111" stroke-width="1.4"/>
<polyline points="43.49,316 49.48,316 55.47,316 61.46,316 67.44,316 73.43,316 79.42,316 85.41,316 91.39,316 97.38,316 103.37,316 109.36,316 115.34,316 121.33,316 127.32,307.13 133.31,295.44 139.29,315.6 145.28,316 151.27,316 157.26,316 163.24,316 169.23,316 175.22,316 181.21,316" fill="none" stroke="#ff0000" stroke-width="1.0" stroke-linejoin="round"/>
<rect x="42.14" y="314.65" width="2.7" height="2.7" fill="#ff0000"/>
<rect x="48.13" y="314.65" width="2.7" height="2.7" fill="#ff0000"/>
<rect x="54.12" y="314.65" width="2.7" height="2.7" fill="#ff0000"/>
<rect x="60.11" y="314.65" width="2.7" height="2.7" fill="#ff0000"/>
<rect x="66.09" y="314.65" width="2.7" height="2.7" fill="#ff0000"/>
<rect x="72.08" y="314.65" width="2.7" height="2.7" fill="#ff0000"/>
<rect x="78.07" y="314.65" width="2.7" height="2.7" fill="#ff0000"/>
<rect x="84.06" y="314.65" width="2.7" height="2.7" fill="#ff0000"/>
<rect x="90.04" y="314.65" width="2.7" height="2.7" fill="#ff0000"/>
<rect x="96.03" y="314.65" width="2.7" height="2.7" fill="#ff0000"/>
<rect x="102.02" y="314.65" width="2.7" height="2.7" fill="#ff0000"/>
<rect x="108.01" y="314.65" width="2.7" height="2.7" fill="#ff0000"/>
<rect x="113.99" y="314.65" width="2.7" height="2.7" fill="#ff0000"/>
<rect x="119.98" y="314.65" width="2.7" height="2.7" fill="#ff0000"/>
<rect x="125.97" y="305.78" width="2.7" height="2.7" fill="#ff0000"/>
<rect x="131.96" y="294.09" width="2.7" height="2.7" fill="#ff0000"/>
<rect x="137.94" y="314.25" width="2.7" height="2.7" fill="#ff0000"/>
<rect x="143.93" y="314.65" width="2.7" height="2.7" fill="#ff0000"/>
<rect x="149.92" y="314.65" width="2.7" height="2.7" fill="#ff0000"/>
<rect x="155.91" y="314.65" width="2.7" height="2.7" fill="#ff0000"/>
<rect x="161.89" y="314.65" width="2.7" height="2.7" fill="#ff0000"/>
<rect x="167.88" y="314.65" width="2.7" height="2.7" fill="#ff0000"/>
<rect x="173.87" y="314.65" width="2.7" height="2.7" fill="#ff0000"/>
<rect x="179.86" y="314.65" width="2.7" height="2.7" fill="#ff0000"/>
<polyline points="43.49,316 49.48,316 55.47,316 61.46,316 67.44,316 73.43,316 79.42,316 85.41,316 91.39,316 97.38,316 103.37,316 109.36,316 115.34,316 121.33,316 127.32,293.15 133.31,280.79 139.29,315.33 145.28,316 151.27,316 157.26,316 163.24,316 169.23,316 175.22,316 181.21,316" fill="none" stroke="#0000ff" stroke-width="1.0" stroke-linejoin="round"/>
<circle cx="43.49" cy="316" r="1.5" fill="#0000ff"/>
<circle cx="49.48" cy="316" r="1.5" fill="#0000ff"/>
<circle cx="55.47" cy="316" r="1.5" fill="#0000ff"/>
<circle cx="61.46" cy="316" r="1.5" fill="#0000ff"/>
<circle cx="67.44" cy="316" r="1.5" fill="#0000ff"/>
<circle cx="73.43" cy="316" r="1.5" fill="#0000ff"/>
<circle cx="79.42" cy="316" r="1.5" fill="#0000ff"/>
<circle cx="85.41" cy="316" r="1.5" fill="#0000ff"/>
<circle cx="91.39" cy="316" r="1.5" fill="#0000ff"/>
<circle cx="97.38" cy="316" r="1.5" fill="#0000ff"/>
<circle cx="103.37" cy="316" r="1.5" fill="#0000ff"/>
<circle cx="109.36" cy="316" r="1.5" fill="#0000ff"/>
<circle cx="115.34" cy="316" r="1.5" fill="#0000ff"/>
<circle cx="121.33" cy="316" r="1.5" fill="#0000ff"/>
<circle cx="127.32" cy="293.15" r="1.5" fill="#0000ff"/>
<circle cx="133.31" cy="280.79" r="1.5" fill="#0000ff"/>
<circle cx="139.29" cy="315.33" r="1.5" fill="#0000ff"/>
<circle cx="145.28" cy="316" r="1.5" fill="#0000ff"/>
<circle cx="151.27" cy="316" r="1.5" fill="#0000ff"/>
<circle cx="157.26" cy="316" r="1.5" fill="#0000ff"/>
<circle cx="163.24" cy="316" r="1.5" fill="#0000ff"/>
<circle cx="169.23" cy="316" r="1.5" fill="#0000ff"/>
<circle cx="175.22" cy="316" r="1.5" fill="#0000ff"/>
<circle cx="181.21" cy="316" r="1.5" fill="#0000ff"/>
<text x="103.9" y="285.8" font-size="7" font-weight="bold" font-style="normal" fill="#000" text-anchor="start" stroke="#000" stroke-width="0.3" textLength="11" lengthAdjust="spacingAndGlyphs" >LSD</text>
<text x="117.2" y="287.8" font-size="5.0" font-weight="bold" font-style="normal" fill="#555" text-anchor="start" textLength="8.3" lengthAdjust="spacingAndGlyphs" >0.05</text>
<text x="44.99" y="325.1" font-size="6.8" font-weight="bold" text-anchor="end" textLength="21.3" lengthAdjust="spacingAndGlyphs" transform="rotate(-45 44.99 325.1)">Mar-13</text>
<text x="56.97" y="325.1" font-size="6.8" font-weight="bold" text-anchor="end" textLength="22.13" lengthAdjust="spacingAndGlyphs" transform="rotate(-45 56.97 325.1)">May-13</text>
<text x="68.94" y="325.1" font-size="6.8" font-weight="bold" text-anchor="end" textLength="17.15" lengthAdjust="spacingAndGlyphs" transform="rotate(-45 68.94 325.1)">Jul-13</text>
<text x="80.92" y="325.1" font-size="6.8" font-weight="bold" text-anchor="end" textLength="19.83" lengthAdjust="spacingAndGlyphs" transform="rotate(-45 80.92 325.1)">Sep-13</text>
<text x="92.89" y="325.1" font-size="6.8" font-weight="bold" text-anchor="end" textLength="20.94" lengthAdjust="spacingAndGlyphs" transform="rotate(-45 92.89 325.1)">Nov-13</text>
<text x="104.87" y="325.1" font-size="6.8" font-weight="bold" text-anchor="end" textLength="18.89" lengthAdjust="spacingAndGlyphs" transform="rotate(-45 104.87 325.1)">Jan-14</text>
<text x="116.84" y="325.1" font-size="6.8" font-weight="bold" text-anchor="end" textLength="21.3" lengthAdjust="spacingAndGlyphs" transform="rotate(-45 116.84 325.1)">Mar-14</text>
<text x="128.82" y="325.1" font-size="6.8" font-weight="bold" text-anchor="end" textLength="22.13" lengthAdjust="spacingAndGlyphs" transform="rotate(-45 128.82 325.1)">May-14</text>
<text x="140.79" y="325.1" font-size="6.8" font-weight="bold" text-anchor="end" textLength="17.15" lengthAdjust="spacingAndGlyphs" transform="rotate(-45 140.79 325.1)">Jul-14</text>
<text x="152.77" y="325.1" font-size="6.8" font-weight="bold" text-anchor="end" textLength="19.83" lengthAdjust="spacingAndGlyphs" transform="rotate(-45 152.77 325.1)">Sep-14</text>
<text x="164.74" y="325.1" font-size="6.8" font-weight="bold" text-anchor="end" textLength="20.94" lengthAdjust="spacingAndGlyphs" transform="rotate(-45 164.74 325.1)">Nov-14</text>
<text x="176.72" y="325.1" font-size="6.8" font-weight="bold" text-anchor="end" textLength="18.89" lengthAdjust="spacingAndGlyphs" transform="rotate(-45 176.72 325.1)">Jan-15</text>
<text x="50.1" y="246.6" font-size="9.5" font-weight="bold" font-style="italic" fill="#000" text-anchor="start" textLength="126.1" lengthAdjust="spacingAndGlyphs" >Limoniastrum  monopetalum</text>
<rect x="238.2" y="259.4" width="24.1" height="57.3" fill="#c0c0c0" stroke="#8a8a8a" stroke-width="0.8"/>
<rect x="308.4" y="259.3" width="26.7" height="57.4" fill="#c0c0c0" stroke="#8a8a8a" stroke-width="0.8"/>
<rect x="317.7" y="259.7" width="17.4" height="57" fill="#d2d3d8"/>
<rect x="319.1" y="259.5" width="1.7" height="57.2" fill="url(#gold)" stroke="#75683f" stroke-width="0.45"/>
<rect x="325.4" y="259.5" width="2.1" height="57.2" fill="url(#gold)" stroke="#75683f" stroke-width="0.45"/>
<rect x="331.7" y="259.5" width="3.2" height="57.2" fill="url(#gold)" stroke="#75683f" stroke-width="0.45"/>
<line x1="335.1" y1="259.3" x2="335.1" y2="316.7" stroke="#767a84" stroke-width="0.8"/>
<line x1="308.4" y1="259.3" x2="335.1" y2="259.3" stroke="#8a8a8a" stroke-width="0.8"/>
<line x1="221" y1="248.2" x2="221" y2="317.2" stroke="#000" stroke-width="1.35"/>
<line x1="220.5" y1="316.7" x2="362.6" y2="316.7" stroke="#000" stroke-width="1.3"/>
<line x1="221" y1="316.7" x2="221" y2="319.2" stroke="#000" stroke-width="1.0"/>
<line x1="226.89" y1="316.7" x2="226.89" y2="319.2" stroke="#000" stroke-width="1.0"/>
<line x1="232.78" y1="316.7" x2="232.78" y2="319.2" stroke="#000" stroke-width="1.0"/>
<line x1="238.66" y1="316.7" x2="238.66" y2="319.2" stroke="#000" stroke-width="1.0"/>
<line x1="244.55" y1="316.7" x2="244.55" y2="319.2" stroke="#000" stroke-width="1.0"/>
<line x1="250.44" y1="316.7" x2="250.44" y2="319.2" stroke="#000" stroke-width="1.0"/>
<line x1="256.32" y1="316.7" x2="256.32" y2="319.2" stroke="#000" stroke-width="1.0"/>
<line x1="262.21" y1="316.7" x2="262.21" y2="319.2" stroke="#000" stroke-width="1.0"/>
<line x1="268.1" y1="316.7" x2="268.1" y2="319.2" stroke="#000" stroke-width="1.0"/>
<line x1="273.99" y1="316.7" x2="273.99" y2="319.2" stroke="#000" stroke-width="1.0"/>
<line x1="279.88" y1="316.7" x2="279.88" y2="319.2" stroke="#000" stroke-width="1.0"/>
<line x1="285.76" y1="316.7" x2="285.76" y2="319.2" stroke="#000" stroke-width="1.0"/>
<line x1="291.65" y1="316.7" x2="291.65" y2="319.2" stroke="#000" stroke-width="1.0"/>
<line x1="297.54" y1="316.7" x2="297.54" y2="319.2" stroke="#000" stroke-width="1.0"/>
<line x1="303.43" y1="316.7" x2="303.43" y2="319.2" stroke="#000" stroke-width="1.0"/>
<line x1="309.31" y1="316.7" x2="309.31" y2="319.2" stroke="#000" stroke-width="1.0"/>
<line x1="315.2" y1="316.7" x2="315.2" y2="319.2" stroke="#000" stroke-width="1.0"/>
<line x1="321.09" y1="316.7" x2="321.09" y2="319.2" stroke="#000" stroke-width="1.0"/>
<line x1="326.98" y1="316.7" x2="326.98" y2="319.2" stroke="#000" stroke-width="1.0"/>
<line x1="332.86" y1="316.7" x2="332.86" y2="319.2" stroke="#000" stroke-width="1.0"/>
<line x1="338.75" y1="316.7" x2="338.75" y2="319.2" stroke="#000" stroke-width="1.0"/>
<line x1="344.64" y1="316.7" x2="344.64" y2="319.2" stroke="#000" stroke-width="1.0"/>
<line x1="350.52" y1="316.7" x2="350.52" y2="319.2" stroke="#000" stroke-width="1.0"/>
<line x1="356.41" y1="316.7" x2="356.41" y2="319.2" stroke="#000" stroke-width="1.0"/>
<line x1="362.3" y1="316.7" x2="362.3" y2="319.2" stroke="#000" stroke-width="1.0"/>
<line x1="218.7" y1="316.7" x2="221" y2="316.7" stroke="#000" stroke-width="0.9"/>
<text x="214" y="319.2" font-size="7" font-weight="bold" font-style="normal" fill="#000" text-anchor="end" >0</text>
<line x1="218.7" y1="303.08" x2="221" y2="303.08" stroke="#000" stroke-width="0.9"/>
<text x="214" y="305.58" font-size="7" font-weight="bold" font-style="normal" fill="#000" text-anchor="end" >100</text>
<line x1="218.7" y1="289.46" x2="221" y2="289.46" stroke="#000" stroke-width="0.9"/>
<text x="214" y="291.96" font-size="7" font-weight="bold" font-style="normal" fill="#000" text-anchor="end" >200</text>
<line x1="218.7" y1="275.84" x2="221" y2="275.84" stroke="#000" stroke-width="0.9"/>
<text x="214" y="278.34" font-size="7" font-weight="bold" font-style="normal" fill="#000" text-anchor="end" >300</text>
<line x1="218.7" y1="262.22" x2="221" y2="262.22" stroke="#000" stroke-width="0.9"/>
<text x="214" y="264.72" font-size="7" font-weight="bold" font-style="normal" fill="#000" text-anchor="end" >400</text>
<line x1="218.7" y1="248.6" x2="221" y2="248.6" stroke="#000" stroke-width="0.9"/>
<text x="214" y="251.1" font-size="7" font-weight="bold" font-style="normal" fill="#000" text-anchor="end" >500</text>
<line x1="219.2" y1="309.89" x2="221" y2="309.89" stroke="#000" stroke-width="0.9"/>
<line x1="219.2" y1="296.27" x2="221" y2="296.27" stroke="#000" stroke-width="0.9"/>
<line x1="219.2" y1="282.65" x2="221" y2="282.65" stroke="#000" stroke-width="0.9"/>
<line x1="219.2" y1="269.03" x2="221" y2="269.03" stroke="#000" stroke-width="0.9"/>
<line x1="219.2" y1="255.41" x2="221" y2="255.41" stroke="#000" stroke-width="0.9"/>
<line x1="247.49" y1="297" x2="247.49" y2="302.9" stroke="#333" stroke-width="1.25"/>
<line x1="245.99" y1="297" x2="248.99" y2="297" stroke="#333" stroke-width="0.9"/>
<line x1="245.99" y1="302.9" x2="248.99" y2="302.9" stroke="#333" stroke-width="0.9"/>
<rect x="252.73" y="269.3" width="1.3" height="10" fill="#8a8a8a" stroke="#4a4a4a" stroke-width="0.45"/>
<line x1="251.63" y1="269.3" x2="255.13" y2="269.3" stroke="#333" stroke-width="0.9"/>
<line x1="251.63" y1="279.3" x2="255.13" y2="279.3" stroke="#333" stroke-width="0.9"/>
<rect x="258.62" y="258.7" width="1.3" height="8.1" fill="#8a8a8a" stroke="#4a4a4a" stroke-width="0.45"/>
<line x1="257.52" y1="258.7" x2="261.02" y2="258.7" stroke="#333" stroke-width="0.9"/>
<line x1="257.52" y1="266.8" x2="261.02" y2="266.8" stroke="#333" stroke-width="0.9"/>
<rect x="264.51" y="261.4" width="1.3" height="9" fill="#8a8a8a" stroke="#4a4a4a" stroke-width="0.45"/>
<line x1="263.41" y1="261.4" x2="266.91" y2="261.4" stroke="#333" stroke-width="0.9"/>
<line x1="263.41" y1="270.4" x2="266.91" y2="270.4" stroke="#333" stroke-width="0.9"/>
<rect x="270.39" y="279.8" width="1.3" height="7.9" fill="#8a8a8a" stroke="#4a4a4a" stroke-width="0.45"/>
<line x1="269.29" y1="279.8" x2="272.79" y2="279.8" stroke="#333" stroke-width="0.9"/>
<line x1="269.29" y1="287.7" x2="272.79" y2="287.7" stroke="#333" stroke-width="0.9"/>
<line x1="276.93" y1="303.7" x2="276.93" y2="308.2" stroke="#000" stroke-width="1.0"/>
<line x1="275.43" y1="303.7" x2="278.43" y2="303.7" stroke="#000" stroke-width="0.9"/>
<line x1="275.43" y1="308.2" x2="278.43" y2="308.2" stroke="#000" stroke-width="0.9"/>
<rect x="323.38" y="279.3" width="1.3" height="11.7" fill="#8a8a8a" stroke="#4a4a4a" stroke-width="0.45"/>
<line x1="322.28" y1="279.3" x2="325.78" y2="279.3" stroke="#333" stroke-width="0.9"/>
<line x1="322.28" y1="291" x2="325.78" y2="291" stroke="#333" stroke-width="0.9"/>
<rect x="329.27" y="265.9" width="1.3" height="13.4" fill="#8a8a8a" stroke="#4a4a4a" stroke-width="0.45"/>
<line x1="328.17" y1="265.9" x2="331.67" y2="265.9" stroke="#333" stroke-width="0.9"/>
<line x1="328.17" y1="279.3" x2="331.67" y2="279.3" stroke="#333" stroke-width="0.9"/>
<rect x="335.16" y="293.9" width="1.3" height="8" fill="#8a8a8a" stroke="#4a4a4a" stroke-width="0.45"/>
<line x1="334.06" y1="293.9" x2="337.56" y2="293.9" stroke="#333" stroke-width="0.9"/>
<line x1="334.06" y1="301.9" x2="337.56" y2="301.9" stroke="#333" stroke-width="0.9"/>
<line x1="341.69" y1="304.9" x2="341.69" y2="309.4" stroke="#000" stroke-width="1.0"/>
<line x1="340.19" y1="304.9" x2="343.19" y2="304.9" stroke="#000" stroke-width="0.9"/>
<line x1="340.19" y1="309.4" x2="343.19" y2="309.4" stroke="#000" stroke-width="0.9"/>
<line x1="345.88" y1="312.6" x2="349.28" y2="312.6" stroke="#111" stroke-width="1.4"/>
<g transform="translate(252.1 298.3)" stroke="#1a1a1a" stroke-width="1.0" stroke-linecap="round"><line x1="0" y1="-1.5" x2="0" y2="1.5"/><line x1="-1.3" y1="-0.75" x2="1.3" y2="0.75"/><line x1="-1.3" y1="0.75" x2="1.3" y2="-0.75"/></g>
<g transform="translate(258.1 294)" stroke="#1a1a1a" stroke-width="1.0" stroke-linecap="round"><line x1="0" y1="-1.5" x2="0" y2="1.5"/><line x1="-1.3" y1="-0.75" x2="1.3" y2="0.75"/><line x1="-1.3" y1="0.75" x2="1.3" y2="-0.75"/></g>
<g transform="translate(264.7 300)" stroke="#1a1a1a" stroke-width="1.0" stroke-linecap="round"><line x1="0" y1="-1.5" x2="0" y2="1.5"/><line x1="-1.3" y1="-0.75" x2="1.3" y2="0.75"/><line x1="-1.3" y1="0.75" x2="1.3" y2="-0.75"/></g>
<g transform="translate(270.7 307.9)" stroke="#1a1a1a" stroke-width="1.0" stroke-linecap="round"><line x1="0" y1="-1.5" x2="0" y2="1.5"/><line x1="-1.3" y1="-0.75" x2="1.3" y2="0.75"/><line x1="-1.3" y1="0.75" x2="1.3" y2="-0.75"/></g>
<polyline points="223.94,316.7 229.83,316.7 235.72,316.7 241.61,316.43 247.49,315.2 253.38,304.44 259.27,299.95 265.16,304.99 271.04,311.25 276.93,316.02 282.82,316.7 288.71,316.7 294.59,316.7 300.48,316.7 306.37,316.7 312.26,316.7 318.14,316.7 324.03,301.45 329.92,294.91 335.81,311.66 341.69,315.34 347.58,316.43 353.47,316.7 359.36,316.7" fill="none" stroke="#ff0000" stroke-width="1.0" stroke-linejoin="round"/>
<rect x="222.59" y="315.35" width="2.7" height="2.7" fill="#ff0000"/>
<rect x="228.48" y="315.35" width="2.7" height="2.7" fill="#ff0000"/>
<rect x="234.37" y="315.35" width="2.7" height="2.7" fill="#ff0000"/>
<rect x="240.26" y="315.08" width="2.7" height="2.7" fill="#ff0000"/>
<rect x="246.14" y="313.85" width="2.7" height="2.7" fill="#ff0000"/>
<rect x="252.03" y="303.09" width="2.7" height="2.7" fill="#ff0000"/>
<rect x="257.92" y="298.6" width="2.7" height="2.7" fill="#ff0000"/>
<rect x="263.81" y="303.64" width="2.7" height="2.7" fill="#ff0000"/>
<rect x="269.69" y="309.9" width="2.7" height="2.7" fill="#ff0000"/>
<rect x="275.58" y="314.67" width="2.7" height="2.7" fill="#ff0000"/>
<rect x="281.47" y="315.35" width="2.7" height="2.7" fill="#ff0000"/>
<rect x="287.36" y="315.35" width="2.7" height="2.7" fill="#ff0000"/>
<rect x="293.24" y="315.35" width="2.7" height="2.7" fill="#ff0000"/>
<rect x="299.13" y="315.35" width="2.7" height="2.7" fill="#ff0000"/>
<rect x="305.02" y="315.35" width="2.7" height="2.7" fill="#ff0000"/>
<rect x="310.91" y="315.35" width="2.7" height="2.7" fill="#ff0000"/>
<rect x="316.79" y="315.35" width="2.7" height="2.7" fill="#ff0000"/>
<rect x="322.68" y="300.1" width="2.7" height="2.7" fill="#ff0000"/>
<rect x="328.57" y="293.56" width="2.7" height="2.7" fill="#ff0000"/>
<rect x="334.46" y="310.31" width="2.7" height="2.7" fill="#ff0000"/>
<rect x="340.34" y="313.99" width="2.7" height="2.7" fill="#ff0000"/>
<rect x="346.23" y="315.08" width="2.7" height="2.7" fill="#ff0000"/>
<rect x="352.12" y="315.35" width="2.7" height="2.7" fill="#ff0000"/>
<rect x="358.01" y="315.35" width="2.7" height="2.7" fill="#ff0000"/>
<polyline points="223.94,316.7 229.83,316.7 235.72,316.7 241.61,316.02 247.49,313.84 253.38,285.51 259.27,271.07 265.16,278.16 271.04,294.5 276.93,313.84 282.82,316.7 288.71,316.7 294.59,316.7 300.48,316.7 306.37,316.7 312.26,316.7 318.14,316.7 324.03,295.04 329.92,285.1 335.81,309.75 341.69,313.57 347.58,316.29 353.47,316.7 359.36,316.7" fill="none" stroke="#0000ff" stroke-width="1.0" stroke-linejoin="round"/>
<circle cx="223.94" cy="316.7" r="1.5" fill="#0000ff"/>
<circle cx="229.83" cy="316.7" r="1.5" fill="#0000ff"/>
<circle cx="235.72" cy="316.7" r="1.5" fill="#0000ff"/>
<circle cx="241.61" cy="316.02" r="1.5" fill="#0000ff"/>
<circle cx="247.49" cy="313.84" r="1.5" fill="#0000ff"/>
<circle cx="253.38" cy="285.51" r="1.5" fill="#0000ff"/>
<circle cx="259.27" cy="271.07" r="1.5" fill="#0000ff"/>
<circle cx="265.16" cy="278.16" r="1.5" fill="#0000ff"/>
<circle cx="271.04" cy="294.5" r="1.5" fill="#0000ff"/>
<circle cx="276.93" cy="313.84" r="1.5" fill="#0000ff"/>
<circle cx="282.82" cy="316.7" r="1.5" fill="#0000ff"/>
<circle cx="288.71" cy="316.7" r="1.5" fill="#0000ff"/>
<circle cx="294.59" cy="316.7" r="1.5" fill="#0000ff"/>
<circle cx="300.48" cy="316.7" r="1.5" fill="#0000ff"/>
<circle cx="306.37" cy="316.7" r="1.5" fill="#0000ff"/>
<circle cx="312.26" cy="316.7" r="1.5" fill="#0000ff"/>
<circle cx="318.14" cy="316.7" r="1.5" fill="#0000ff"/>
<circle cx="324.03" cy="295.04" r="1.5" fill="#0000ff"/>
<circle cx="329.92" cy="285.1" r="1.5" fill="#0000ff"/>
<circle cx="335.81" cy="309.75" r="1.5" fill="#0000ff"/>
<circle cx="341.69" cy="313.57" r="1.5" fill="#0000ff"/>
<circle cx="347.58" cy="316.29" r="1.5" fill="#0000ff"/>
<circle cx="353.47" cy="316.7" r="1.5" fill="#0000ff"/>
<circle cx="359.36" cy="316.7" r="1.5" fill="#0000ff"/>
<text x="300.8" y="286.6" font-size="7" font-weight="bold" font-style="normal" fill="#000" text-anchor="start" stroke="#000" stroke-width="0.3" textLength="11" lengthAdjust="spacingAndGlyphs" >LSD</text>
<text x="313.9" y="287.9" font-size="5.0" font-weight="bold" font-style="normal" fill="#555" text-anchor="start" textLength="7.5" lengthAdjust="spacingAndGlyphs" >0.05</text>
<text x="225.44" y="325.8" font-size="6.8" font-weight="bold" text-anchor="end" textLength="21.3" lengthAdjust="spacingAndGlyphs" transform="rotate(-45 225.44 325.8)">Mar-13</text>
<text x="237.22" y="325.8" font-size="6.8" font-weight="bold" text-anchor="end" textLength="22.13" lengthAdjust="spacingAndGlyphs" transform="rotate(-45 237.22 325.8)">May-13</text>
<text x="248.99" y="325.8" font-size="6.8" font-weight="bold" text-anchor="end" textLength="17.15" lengthAdjust="spacingAndGlyphs" transform="rotate(-45 248.99 325.8)">Jul-13</text>
<text x="260.77" y="325.8" font-size="6.8" font-weight="bold" text-anchor="end" textLength="19.83" lengthAdjust="spacingAndGlyphs" transform="rotate(-45 260.77 325.8)">Sep-13</text>
<text x="272.54" y="325.8" font-size="6.8" font-weight="bold" text-anchor="end" textLength="20.94" lengthAdjust="spacingAndGlyphs" transform="rotate(-45 272.54 325.8)">Nov-13</text>
<text x="284.32" y="325.8" font-size="6.8" font-weight="bold" text-anchor="end" textLength="18.89" lengthAdjust="spacingAndGlyphs" transform="rotate(-45 284.32 325.8)">Jan-14</text>
<text x="296.09" y="325.8" font-size="6.8" font-weight="bold" text-anchor="end" textLength="21.3" lengthAdjust="spacingAndGlyphs" transform="rotate(-45 296.09 325.8)">Mar-14</text>
<text x="307.87" y="325.8" font-size="6.8" font-weight="bold" text-anchor="end" textLength="22.13" lengthAdjust="spacingAndGlyphs" transform="rotate(-45 307.87 325.8)">May-14</text>
<text x="319.64" y="325.8" font-size="6.8" font-weight="bold" text-anchor="end" textLength="17.15" lengthAdjust="spacingAndGlyphs" transform="rotate(-45 319.64 325.8)">Jul-14</text>
<text x="331.42" y="325.8" font-size="6.8" font-weight="bold" text-anchor="end" textLength="19.83" lengthAdjust="spacingAndGlyphs" transform="rotate(-45 331.42 325.8)">Sep-14</text>
<text x="343.19" y="325.8" font-size="6.8" font-weight="bold" text-anchor="end" textLength="20.94" lengthAdjust="spacingAndGlyphs" transform="rotate(-45 343.19 325.8)">Nov-14</text>
<text x="354.97" y="325.8" font-size="6.8" font-weight="bold" text-anchor="end" textLength="18.89" lengthAdjust="spacingAndGlyphs" transform="rotate(-45 354.97 325.8)">Jan-15</text>
<text x="244" y="246.9" font-size="9.6" font-weight="bold" font-style="italic" fill="#000" text-anchor="start" textLength="95.9" lengthAdjust="spacingAndGlyphs" >Crithmum maritimum</text>
<rect x="407.4" y="258.6" width="25" height="60.2" fill="#c0c0c0" stroke="#8a8a8a" stroke-width="0.8"/>
<rect x="478.1" y="259.4" width="26.5" height="59.4" fill="#c0c0c0" stroke="#8a8a8a" stroke-width="0.8"/>
<rect x="487" y="259.8" width="17.6" height="59" fill="#d2d3d8"/>
<rect x="488.4" y="259.6" width="1.7" height="59.2" fill="url(#gold)" stroke="#75683f" stroke-width="0.45"/>
<rect x="494.7" y="259.6" width="1.7" height="59.2" fill="url(#gold)" stroke="#75683f" stroke-width="0.45"/>
<rect x="501" y="259.6" width="3.4" height="59.2" fill="url(#gold)" stroke="#75683f" stroke-width="0.45"/>
<line x1="504.6" y1="259.4" x2="504.6" y2="318.8" stroke="#767a84" stroke-width="0.8"/>
<line x1="478.1" y1="259.4" x2="504.6" y2="259.4" stroke="#8a8a8a" stroke-width="0.8"/>
<line x1="390" y1="251.3" x2="390" y2="319.3" stroke="#000" stroke-width="1.35"/>
<line x1="389.5" y1="318.8" x2="533.8" y2="318.8" stroke="#000" stroke-width="1.3"/>
<line x1="390" y1="318.8" x2="390" y2="321.3" stroke="#000" stroke-width="1.0"/>
<line x1="395.98" y1="318.8" x2="395.98" y2="321.3" stroke="#000" stroke-width="1.0"/>
<line x1="401.96" y1="318.8" x2="401.96" y2="321.3" stroke="#000" stroke-width="1.0"/>
<line x1="407.94" y1="318.8" x2="407.94" y2="321.3" stroke="#000" stroke-width="1.0"/>
<line x1="413.92" y1="318.8" x2="413.92" y2="321.3" stroke="#000" stroke-width="1.0"/>
<line x1="419.9" y1="318.8" x2="419.9" y2="321.3" stroke="#000" stroke-width="1.0"/>
<line x1="425.88" y1="318.8" x2="425.88" y2="321.3" stroke="#000" stroke-width="1.0"/>
<line x1="431.85" y1="318.8" x2="431.85" y2="321.3" stroke="#000" stroke-width="1.0"/>
<line x1="437.83" y1="318.8" x2="437.83" y2="321.3" stroke="#000" stroke-width="1.0"/>
<line x1="443.81" y1="318.8" x2="443.81" y2="321.3" stroke="#000" stroke-width="1.0"/>
<line x1="449.79" y1="318.8" x2="449.79" y2="321.3" stroke="#000" stroke-width="1.0"/>
<line x1="455.77" y1="318.8" x2="455.77" y2="321.3" stroke="#000" stroke-width="1.0"/>
<line x1="461.75" y1="318.8" x2="461.75" y2="321.3" stroke="#000" stroke-width="1.0"/>
<line x1="467.73" y1="318.8" x2="467.73" y2="321.3" stroke="#000" stroke-width="1.0"/>
<line x1="473.71" y1="318.8" x2="473.71" y2="321.3" stroke="#000" stroke-width="1.0"/>
<line x1="479.69" y1="318.8" x2="479.69" y2="321.3" stroke="#000" stroke-width="1.0"/>
<line x1="485.67" y1="318.8" x2="485.67" y2="321.3" stroke="#000" stroke-width="1.0"/>
<line x1="491.65" y1="318.8" x2="491.65" y2="321.3" stroke="#000" stroke-width="1.0"/>
<line x1="497.62" y1="318.8" x2="497.62" y2="321.3" stroke="#000" stroke-width="1.0"/>
<line x1="503.6" y1="318.8" x2="503.6" y2="321.3" stroke="#000" stroke-width="1.0"/>
<line x1="509.58" y1="318.8" x2="509.58" y2="321.3" stroke="#000" stroke-width="1.0"/>
<line x1="515.56" y1="318.8" x2="515.56" y2="321.3" stroke="#000" stroke-width="1.0"/>
<line x1="521.54" y1="318.8" x2="521.54" y2="321.3" stroke="#000" stroke-width="1.0"/>
<line x1="527.52" y1="318.8" x2="527.52" y2="321.3" stroke="#000" stroke-width="1.0"/>
<line x1="533.5" y1="318.8" x2="533.5" y2="321.3" stroke="#000" stroke-width="1.0"/>
<line x1="387.7" y1="318.8" x2="390" y2="318.8" stroke="#000" stroke-width="0.9"/>
<text x="383" y="321.3" font-size="7" font-weight="bold" font-style="normal" fill="#000" text-anchor="end" >0</text>
<line x1="387.7" y1="305.38" x2="390" y2="305.38" stroke="#000" stroke-width="0.9"/>
<text x="383" y="307.88" font-size="7" font-weight="bold" font-style="normal" fill="#000" text-anchor="end" >5</text>
<line x1="387.7" y1="291.96" x2="390" y2="291.96" stroke="#000" stroke-width="0.9"/>
<text x="383" y="294.46" font-size="7" font-weight="bold" font-style="normal" fill="#000" text-anchor="end" >10</text>
<line x1="387.7" y1="278.54" x2="390" y2="278.54" stroke="#000" stroke-width="0.9"/>
<text x="383" y="281.04" font-size="7" font-weight="bold" font-style="normal" fill="#000" text-anchor="end" >15</text>
<line x1="387.7" y1="265.12" x2="390" y2="265.12" stroke="#000" stroke-width="0.9"/>
<text x="383" y="267.62" font-size="7" font-weight="bold" font-style="normal" fill="#000" text-anchor="end" >20</text>
<line x1="387.7" y1="251.7" x2="390" y2="251.7" stroke="#000" stroke-width="0.9"/>
<text x="383" y="254.2" font-size="7" font-weight="bold" font-style="normal" fill="#000" text-anchor="end" >25</text>
<line x1="446.8" y1="311.8" x2="446.8" y2="313.9" stroke="#000" stroke-width="1.0"/>
<line x1="445.3" y1="311.8" x2="448.3" y2="311.8" stroke="#000" stroke-width="0.9"/>
<line x1="445.3" y1="313.9" x2="448.3" y2="313.9" stroke="#000" stroke-width="0.9"/>
<line x1="452.78" y1="309.7" x2="452.78" y2="312.5" stroke="#000" stroke-width="1.0"/>
<line x1="451.28" y1="309.7" x2="454.28" y2="309.7" stroke="#000" stroke-width="0.9"/>
<line x1="451.28" y1="312.5" x2="454.28" y2="312.5" stroke="#000" stroke-width="0.9"/>
<line x1="458.76" y1="286.1" x2="458.76" y2="301.4" stroke="#333" stroke-width="1.25"/>
<line x1="457.26" y1="286.1" x2="460.26" y2="286.1" stroke="#333" stroke-width="0.9"/>
<line x1="457.26" y1="301.4" x2="460.26" y2="301.4" stroke="#333" stroke-width="0.9"/>
<line x1="464.74" y1="281.4" x2="464.74" y2="299.9" stroke="#333" stroke-width="1.25"/>
<line x1="463.24" y1="281.4" x2="466.24" y2="281.4" stroke="#333" stroke-width="0.9"/>
<line x1="463.24" y1="299.9" x2="466.24" y2="299.9" stroke="#333" stroke-width="0.9"/>
<line x1="512.57" y1="307.1" x2="512.57" y2="312.5" stroke="#000" stroke-width="1.0"/>
<line x1="511.07" y1="307.1" x2="514.07" y2="307.1" stroke="#000" stroke-width="0.9"/>
<line x1="511.07" y1="312.5" x2="514.07" y2="312.5" stroke="#000" stroke-width="0.9"/>
<line x1="524.53" y1="276.9" x2="524.53" y2="299.3" stroke="#000" stroke-width="1.0"/>
<line x1="523.03" y1="276.9" x2="526.03" y2="276.9" stroke="#000" stroke-width="0.9"/>
<line x1="523.03" y1="299.3" x2="526.03" y2="299.3" stroke="#000" stroke-width="0.9"/>
<line x1="530.51" y1="256.3" x2="530.51" y2="284.6" stroke="#000" stroke-width="1.0"/>
<line x1="529.01" y1="256.3" x2="532.01" y2="256.3" stroke="#000" stroke-width="0.9"/>
<line x1="529.01" y1="284.6" x2="532.01" y2="284.6" stroke="#000" stroke-width="0.9"/>
<polyline points="392.99,318.8 398.97,318.8 404.95,318.8 410.93,318.8 416.91,318.8 422.89,318.8 428.86,318.8 434.84,318.8 440.82,318.8 446.8,318.8 452.78,318.8 458.76,317.73 464.74,311.02 470.72,318.8 476.7,318.8 482.68,318.8 488.66,318.8 494.64,318.8 500.61,318.8 506.59,318.8 512.57,316.92 518.55,318.8 524.53,305.92 530.51,290.08" fill="none" stroke="#ff0000" stroke-width="1.0" stroke-linejoin="round"/>
<rect x="391.64" y="317.45" width="2.7" height="2.7" fill="#ff0000"/>
<rect x="397.62" y="317.45" width="2.7" height="2.7" fill="#ff0000"/>
<rect x="403.6" y="317.45" width="2.7" height="2.7" fill="#ff0000"/>
<rect x="409.58" y="317.45" width="2.7" height="2.7" fill="#ff0000"/>
<rect x="415.56" y="317.45" width="2.7" height="2.7" fill="#ff0000"/>
<rect x="421.54" y="317.45" width="2.7" height="2.7" fill="#ff0000"/>
<rect x="427.51" y="317.45" width="2.7" height="2.7" fill="#ff0000"/>
<rect x="433.49" y="317.45" width="2.7" height="2.7" fill="#ff0000"/>
<rect x="439.47" y="317.45" width="2.7" height="2.7" fill="#ff0000"/>
<rect x="445.45" y="317.45" width="2.7" height="2.7" fill="#ff0000"/>
<rect x="451.43" y="317.45" width="2.7" height="2.7" fill="#ff0000"/>
<rect x="457.41" y="316.38" width="2.7" height="2.7" fill="#ff0000"/>
<rect x="463.39" y="309.67" width="2.7" height="2.7" fill="#ff0000"/>
<rect x="469.37" y="317.45" width="2.7" height="2.7" fill="#ff0000"/>
<rect x="475.35" y="317.45" width="2.7" height="2.7" fill="#ff0000"/>
<rect x="481.33" y="317.45" width="2.7" height="2.7" fill="#ff0000"/>
<rect x="487.31" y="317.45" width="2.7" height="2.7" fill="#ff0000"/>
<rect x="493.29" y="317.45" width="2.7" height="2.7" fill="#ff0000"/>
<rect x="499.26" y="317.45" width="2.7" height="2.7" fill="#ff0000"/>
<rect x="505.24" y="317.45" width="2.7" height="2.7" fill="#ff0000"/>
<rect x="511.22" y="315.57" width="2.7" height="2.7" fill="#ff0000"/>
<rect x="517.2" y="317.45" width="2.7" height="2.7" fill="#ff0000"/>
<rect x="523.18" y="304.57" width="2.7" height="2.7" fill="#ff0000"/>
<rect x="529.16" y="288.73" width="2.7" height="2.7" fill="#ff0000"/>
<polyline points="392.99,318.8 398.97,318.8 404.95,318.8 410.93,318.8 416.91,318.8 422.89,318.8 428.86,318.8 434.84,318.8 440.82,317.73 446.8,318.53 452.78,317.19 458.76,312.09 464.74,306.99 470.72,317.73 476.7,318.8 482.68,318.8 488.66,318.8 494.64,318.8 500.61,318.8 506.59,318.8 512.57,318.8 518.55,318.8 524.53,312.63 530.51,306.99" fill="none" stroke="#0000ff" stroke-width="1.0" stroke-linejoin="round"/>
<circle cx="392.99" cy="318.8" r="1.5" fill="#0000ff"/>
<circle cx="398.97" cy="318.8" r="1.5" fill="#0000ff"/>
<circle cx="404.95" cy="318.8" r="1.5" fill="#0000ff"/>
<circle cx="410.93" cy="318.8" r="1.5" fill="#0000ff"/>
<circle cx="416.91" cy="318.8" r="1.5" fill="#0000ff"/>
<circle cx="422.89" cy="318.8" r="1.5" fill="#0000ff"/>
<circle cx="428.86" cy="318.8" r="1.5" fill="#0000ff"/>
<circle cx="434.84" cy="318.8" r="1.5" fill="#0000ff"/>
<circle cx="440.82" cy="317.73" r="1.5" fill="#0000ff"/>
<circle cx="446.8" cy="318.53" r="1.5" fill="#0000ff"/>
<circle cx="452.78" cy="317.19" r="1.5" fill="#0000ff"/>
<circle cx="458.76" cy="312.09" r="1.5" fill="#0000ff"/>
<circle cx="464.74" cy="306.99" r="1.5" fill="#0000ff"/>
<circle cx="470.72" cy="317.73" r="1.5" fill="#0000ff"/>
<circle cx="476.7" cy="318.8" r="1.5" fill="#0000ff"/>
<circle cx="482.68" cy="318.8" r="1.5" fill="#0000ff"/>
<circle cx="488.66" cy="318.8" r="1.5" fill="#0000ff"/>
<circle cx="494.64" cy="318.8" r="1.5" fill="#0000ff"/>
<circle cx="500.61" cy="318.8" r="1.5" fill="#0000ff"/>
<circle cx="506.59" cy="318.8" r="1.5" fill="#0000ff"/>
<circle cx="512.57" cy="318.8" r="1.5" fill="#0000ff"/>
<circle cx="518.55" cy="318.8" r="1.5" fill="#0000ff"/>
<circle cx="524.53" cy="312.63" r="1.5" fill="#0000ff"/>
<circle cx="530.51" cy="306.99" r="1.5" fill="#0000ff"/>
<text x="500.2" y="296" font-size="7" font-weight="bold" font-style="normal" fill="#000" text-anchor="start" stroke="#000" stroke-width="0.3" textLength="11.1" lengthAdjust="spacingAndGlyphs" >LSD</text>
<text x="513.3" y="297.9" font-size="5.0" font-weight="bold" font-style="normal" fill="#555" text-anchor="start" textLength="9" lengthAdjust="spacingAndGlyphs" >0.05</text>
<text x="394.49" y="327.9" font-size="6.8" font-weight="bold" text-anchor="end" textLength="21.3" lengthAdjust="spacingAndGlyphs" transform="rotate(-45 394.49 327.9)">Mar-13</text>
<text x="406.45" y="327.9" font-size="6.8" font-weight="bold" text-anchor="end" textLength="22.13" lengthAdjust="spacingAndGlyphs" transform="rotate(-45 406.45 327.9)">May-13</text>
<text x="418.41" y="327.9" font-size="6.8" font-weight="bold" text-anchor="end" textLength="17.15" lengthAdjust="spacingAndGlyphs" transform="rotate(-45 418.41 327.9)">Jul-13</text>
<text x="430.36" y="327.9" font-size="6.8" font-weight="bold" text-anchor="end" textLength="19.83" lengthAdjust="spacingAndGlyphs" transform="rotate(-45 430.36 327.9)">Sep-13</text>
<text x="442.32" y="327.9" font-size="6.8" font-weight="bold" text-anchor="end" textLength="20.94" lengthAdjust="spacingAndGlyphs" transform="rotate(-45 442.32 327.9)">Nov-13</text>
<text x="454.28" y="327.9" font-size="6.8" font-weight="bold" text-anchor="end" textLength="18.89" lengthAdjust="spacingAndGlyphs" transform="rotate(-45 454.28 327.9)">Jan-14</text>
<text x="466.24" y="327.9" font-size="6.8" font-weight="bold" text-anchor="end" textLength="21.3" lengthAdjust="spacingAndGlyphs" transform="rotate(-45 466.24 327.9)">Mar-14</text>
<text x="478.2" y="327.9" font-size="6.8" font-weight="bold" text-anchor="end" textLength="22.13" lengthAdjust="spacingAndGlyphs" transform="rotate(-45 478.2 327.9)">May-14</text>
<text x="490.16" y="327.9" font-size="6.8" font-weight="bold" text-anchor="end" textLength="17.15" lengthAdjust="spacingAndGlyphs" transform="rotate(-45 490.16 327.9)">Jul-14</text>
<text x="502.11" y="327.9" font-size="6.8" font-weight="bold" text-anchor="end" textLength="19.83" lengthAdjust="spacingAndGlyphs" transform="rotate(-45 502.11 327.9)">Sep-14</text>
<text x="514.07" y="327.9" font-size="6.8" font-weight="bold" text-anchor="end" textLength="20.94" lengthAdjust="spacingAndGlyphs" transform="rotate(-45 514.07 327.9)">Nov-14</text>
<text x="526.03" y="327.9" font-size="6.8" font-weight="bold" text-anchor="end" textLength="18.89" lengthAdjust="spacingAndGlyphs" transform="rotate(-45 526.03 327.9)">Jan-15</text>
<text x="412.5" y="246.2" font-size="9.5" font-weight="bold" font-style="italic" fill="#000" text-anchor="start" textLength="93.3" lengthAdjust="spacingAndGlyphs" >Teucrium brevifolium</text>
<text x="76.6" y="126.4" font-size="9.3" font-weight="bold" font-style="italic" fill="#000" text-anchor="start" textLength="56" lengthAdjust="spacingAndGlyphs" >Suaeda vera</text>
<text x="60.3" y="179.7" font-size="8.6" font-weight="normal" font-style="normal" fill="#000" text-anchor="start" textLength="93.6" lengthAdjust="spacingAndGlyphs" >It did not flower during the</text>
<text x="60.3" y="189.5" font-size="8.6" font-weight="normal" font-style="normal" fill="#000" text-anchor="start" textLength="66.3" lengthAdjust="spacingAndGlyphs" >course of the study</text>
<text x="0" y="0" font-size="9.5" font-weight="bold" text-anchor="middle" transform="translate(13.2 169.9) rotate(-90)" textLength="83.5" lengthAdjust="spacingAndGlyphs">Number of flowers</text>
<text x="262.9" y="354.7" font-size="9" font-weight="bold" font-style="normal" fill="#000" text-anchor="start" textLength="19.7" lengthAdjust="spacingAndGlyphs" >Date</text>
<rect x="510.5" y="20.6" width="36.8" height="18.8" rx="1.2" fill="#fff" stroke="#a6a6a6" stroke-width="0.9"/>
<line x1="513.2" y1="26.1" x2="525.9" y2="26.1" stroke="#ff0000" stroke-width="1.2"/>
<rect x="517.1" y="24.6" width="3" height="3" fill="#ff0000"/>
<line x1="513.2" y1="33.6" x2="525.9" y2="33.6" stroke="#0000ff" stroke-width="1.2"/>
<circle cx="518.6" cy="33.6" r="1.7" fill="#0000ff"/>
<text x="531.2" y="27.8" font-size="6.8" font-weight="bold" font-style="normal" fill="#000" text-anchor="start" stroke="#000" stroke-width="0.2" textLength="14" lengthAdjust="spacingAndGlyphs" >8 cm</text>
<text x="528.4" y="35.3" font-size="6.8" font-weight="bold" font-style="normal" fill="#000" text-anchor="start" stroke="#000" stroke-width="0.2" textLength="16.8" lengthAdjust="spacingAndGlyphs" >15 cm</text>
</svg>
</body></html>
